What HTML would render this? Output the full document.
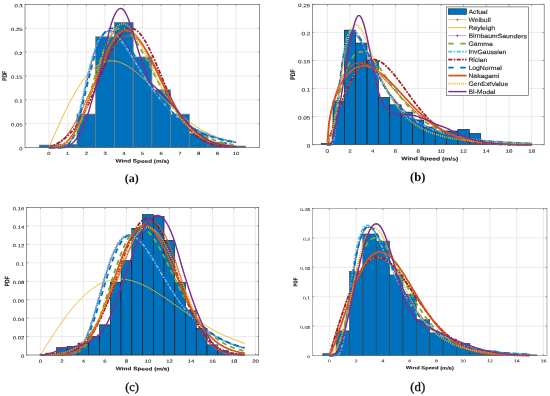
<!DOCTYPE html>
<html lang="en"><head><meta charset="utf-8"><title>Wind speed PDF fits</title>
<style>html,body{margin:0;padding:0;background:#fff;width:550px;height:396px;overflow:hidden}</style></head>
<body>
<svg width="550" height="396" viewBox="0 0 550 396" font-family="'Liberation Sans',sans-serif" text-rendering="geometricPrecision" style="display:block">
<rect width="550" height="396" fill="#fff"/>
<g id="chart-a">
<rect x="25.0" y="4.4" width="234.60" height="143.10" fill="#fff"/>
<path d="M48.90 4.4V147.5M67.62 4.4V147.5M86.34 4.4V147.5M105.06 4.4V147.5M123.78 4.4V147.5M142.50 4.4V147.5M161.22 4.4V147.5M179.94 4.4V147.5M198.66 4.4V147.5M217.38 4.4V147.5M236.10 4.4V147.5M25.0 123.65H259.6M25.0 99.80H259.6M25.0 75.95H259.6M25.0 52.10H259.6M25.0 28.25H259.6" stroke="#dbdbdb" stroke-width="0.55" fill="none"/>
<g fill="#0072BD" stroke="#787878" stroke-width="0.8"><rect x="39.54" y="145.12" width="18.72" height="2.39"/><rect x="58.26" y="144.35" width="18.72" height="3.15"/><rect x="76.98" y="114.11" width="18.72" height="33.39"/><rect x="95.70" y="36.84" width="18.72" height="110.66"/><rect x="114.42" y="22.53" width="18.72" height="124.97"/><rect x="133.14" y="57.06" width="18.72" height="90.44"/><rect x="151.86" y="89.88" width="18.72" height="57.62"/><rect x="170.58" y="114.21" width="18.72" height="33.29"/><rect x="189.30" y="133.19" width="18.72" height="14.31"/><rect x="208.02" y="142.25" width="18.72" height="5.25"/><rect x="226.74" y="146.07" width="18.72" height="1.43"/></g>
<polyline points="48.9,147.5 50.5,147.4 52.0,147.1 53.6,146.6 55.1,145.9 56.7,145.0 58.3,144.0 59.8,142.7 61.4,141.4 62.9,139.8 64.5,138.1 66.1,136.2 67.6,134.2 69.2,132.1 70.7,129.8 72.3,127.3 73.9,124.7 75.4,122.0 77.0,119.2 78.5,116.3 80.1,113.3 81.7,110.2 83.2,107.0 84.8,103.7 86.3,100.4 87.9,97.0 89.5,93.6 91.0,90.1 92.6,86.7 94.1,83.3 95.7,79.8 97.3,76.5 98.8,73.1 100.4,69.8 101.9,66.6 103.5,63.5 105.1,60.5 106.6,57.6 108.2,54.8 109.7,52.2 111.3,49.7 112.9,47.4 114.4,45.3 116.0,43.4 117.5,41.7 119.1,40.2 120.7,38.9 122.2,37.8 123.8,37.0 125.3,36.4 126.9,36.0 128.5,35.9 130.0,36.0 131.6,36.4 133.1,37.0 134.7,37.8 136.3,38.8 137.8,40.1 139.4,41.6 140.9,43.3 142.5,45.2 144.1,47.3 145.6,49.5 147.2,51.9 148.7,54.5 150.3,57.2 151.9,60.0 153.4,62.9 155.0,65.9 156.5,68.9 158.1,72.1 159.7,75.2 161.2,78.4 162.8,81.6 164.3,84.8 165.9,88.0 167.5,91.2 169.0,94.3 170.6,97.3 172.1,100.3 173.7,103.3 175.3,106.1 176.8,108.9 178.4,111.5 179.9,114.1 181.5,116.6 183.1,118.9 184.6,121.1 186.2,123.3 187.7,125.3 189.3,127.2 190.9,129.0 192.4,130.6 194.0,132.2 195.5,133.7 197.1,135.0 198.7,136.3 200.2,137.4 201.8,138.5 203.3,139.4 204.9,140.3 206.5,141.1 208.0,141.9 209.6,142.5 211.1,143.1 212.7,143.7 214.3,144.1 215.8,144.6 217.4,144.9 218.9,145.3 220.5,145.6 222.1,145.9 223.6,146.1 225.2,146.3 226.7,146.5 228.3,146.6 229.9,146.8 231.4,146.9 233.0,147.0 234.5,147.1 236.1,147.1" fill="none" stroke="#D95319" stroke-width="0.5" stroke-linejoin="round"/>
<polyline points="48.9,147.5 50.5,147.4 52.0,147.1 53.6,146.6 55.1,145.9 56.7,145.0 58.3,144.0 59.8,142.7 61.4,141.4 62.9,139.8 64.5,138.1 66.1,136.2 67.6,134.2 69.2,132.1 70.7,129.8 72.3,127.3 73.9,124.7 75.4,122.0 77.0,119.2 78.5,116.3 80.1,113.3 81.7,110.2 83.2,107.0 84.8,103.7 86.3,100.4 87.9,97.0 89.5,93.6 91.0,90.1 92.6,86.7 94.1,83.3 95.7,79.8 97.3,76.5 98.8,73.1 100.4,69.8 101.9,66.6 103.5,63.5 105.1,60.5 106.6,57.6 108.2,54.8 109.7,52.2 111.3,49.7 112.9,47.4 114.4,45.3 116.0,43.4 117.5,41.7 119.1,40.2 120.7,38.9 122.2,37.8 123.8,37.0 125.3,36.4 126.9,36.0 128.5,35.9 130.0,36.0 131.6,36.4 133.1,37.0 134.7,37.8 136.3,38.8 137.8,40.1 139.4,41.6 140.9,43.3 142.5,45.2 144.1,47.3 145.6,49.5 147.2,51.9 148.7,54.5 150.3,57.2 151.9,60.0 153.4,62.9 155.0,65.9 156.5,68.9 158.1,72.1 159.7,75.2 161.2,78.4 162.8,81.6 164.3,84.8 165.9,88.0 167.5,91.2 169.0,94.3 170.6,97.3 172.1,100.3 173.7,103.3 175.3,106.1 176.8,108.9 178.4,111.5 179.9,114.1 181.5,116.6 183.1,118.9 184.6,121.1 186.2,123.3 187.7,125.3 189.3,127.2 190.9,129.0 192.4,130.6 194.0,132.2 195.5,133.7 197.1,135.0 198.7,136.3 200.2,137.4 201.8,138.5 203.3,139.4 204.9,140.3 206.5,141.1 208.0,141.9 209.6,142.5 211.1,143.1 212.7,143.7 214.3,144.1 215.8,144.6 217.4,144.9 218.9,145.3 220.5,145.6 222.1,145.9 223.6,146.1 225.2,146.3 226.7,146.5 228.3,146.6 229.9,146.8 231.4,146.9 233.0,147.0 234.5,147.1 236.1,147.1" fill="none" stroke="#D95319" stroke-width="1.45" stroke-dasharray="0.01 2.0" stroke-linecap="round" stroke-linejoin="round"/>
<polyline points="48.9,147.5 50.5,143.9 52.0,140.4 53.6,136.8 55.1,133.3 56.7,129.8 58.3,126.3 59.8,122.9 61.4,119.5 62.9,116.2 64.5,112.9 66.1,109.7 67.6,106.6 69.2,103.5 70.7,100.5 72.3,97.6 73.9,94.8 75.4,92.1 77.0,89.4 78.5,86.9 80.1,84.5 81.7,82.2 83.2,80.0 84.8,77.9 86.3,75.9 87.9,74.1 89.5,72.3 91.0,70.7 92.6,69.2 94.1,67.9 95.7,66.6 97.3,65.5 98.8,64.5 100.4,63.6 101.9,62.9 103.5,62.2 105.1,61.7 106.6,61.3 108.2,61.0 109.7,60.9 111.3,60.8 112.9,60.9 114.4,61.0 116.0,61.3 117.5,61.6 119.1,62.1 120.7,62.6 122.2,63.3 123.8,64.0 125.3,64.8 126.9,65.6 128.5,66.6 130.0,67.6 131.6,68.7 133.1,69.9 134.7,71.1 136.3,72.3 137.8,73.6 139.4,75.0 140.9,76.4 142.5,77.8 144.1,79.3 145.6,80.7 147.2,82.3 148.7,83.8 150.3,85.4 151.9,86.9 153.4,88.5 155.0,90.1 156.5,91.7 158.1,93.3 159.7,94.9 161.2,96.5 162.8,98.0 164.3,99.6 165.9,101.2 167.5,102.7 169.0,104.2 170.6,105.7 172.1,107.2 173.7,108.7 175.3,110.1 176.8,111.5 178.4,112.9 179.9,114.3 181.5,115.6 183.1,116.9 184.6,118.2 186.2,119.4 187.7,120.6 189.3,121.8 190.9,122.9 192.4,124.0 194.0,125.1 195.5,126.2 197.1,127.2 198.7,128.1 200.2,129.1 201.8,130.0 203.3,130.9 204.9,131.7 206.5,132.5 208.0,133.3 209.6,134.0 211.1,134.8 212.7,135.5 214.3,136.1 215.8,136.7 217.4,137.3 218.9,137.9 220.5,138.5 222.1,139.0 223.6,139.5 225.2,140.0 226.7,140.4 228.3,140.9 229.9,141.3 231.4,141.6 233.0,142.0 234.5,142.4 236.1,142.7" fill="none" stroke="#EDB120" stroke-width="0.9" stroke-linejoin="round"/>
<polyline points="48.9,147.5 50.5,147.5 52.0,147.5 53.6,147.5 55.1,147.5 56.7,147.5 58.3,147.5 59.8,147.5 61.4,147.5 62.9,147.4 64.5,147.1 66.1,146.5 67.6,145.5 69.2,143.8 70.7,141.4 72.3,138.2 73.9,134.2 75.4,129.3 77.0,123.8 78.5,117.6 80.1,111.1 81.7,104.2 83.2,97.1 84.8,90.1 86.3,83.2 87.9,76.4 89.5,70.0 91.0,64.0 92.6,58.5 94.1,53.4 95.7,48.8 97.3,44.8 98.8,41.3 100.4,38.3 101.9,35.8 103.5,33.9 105.1,32.4 106.6,31.4 108.2,30.8 109.7,30.6 111.3,30.8 112.9,31.3 114.4,32.2 116.0,33.3 117.5,34.6 119.1,36.2 120.7,37.9 122.2,39.9 123.8,42.0 125.3,44.2 126.9,46.5 128.5,48.9 130.0,51.4 131.6,53.9 133.1,56.4 134.7,59.0 136.3,61.6 137.8,64.3 139.4,66.9 140.9,69.4 142.5,72.0 144.1,74.5 145.6,77.1 147.2,79.5 148.7,81.9 150.3,84.3 151.9,86.6 153.4,88.9 155.0,91.1 156.5,93.3 158.1,95.4 159.7,97.4 161.2,99.4 162.8,101.3 164.3,103.2 165.9,105.0 167.5,106.8 169.0,108.4 170.6,110.1 172.1,111.7 173.7,113.2 175.3,114.6 176.8,116.0 178.4,117.4 179.9,118.7 181.5,120.0 183.1,121.2 184.6,122.3 186.2,123.4 187.7,124.5 189.3,125.5 190.9,126.5 192.4,127.5 194.0,128.4 195.5,129.2 197.1,130.1 198.7,130.9 200.2,131.6 201.8,132.4 203.3,133.1 204.9,133.7 206.5,134.4 208.0,135.0 209.6,135.6 211.1,136.1 212.7,136.7 214.3,137.2 215.8,137.7 217.4,138.1 218.9,138.6 220.5,139.0 222.1,139.4 223.6,139.8 225.2,140.1 226.7,140.5 228.3,140.8 229.9,141.1 231.4,141.4 233.0,141.7 234.5,142.0 236.1,142.3" fill="none" stroke="#7E2F8E" stroke-width="0.5" stroke-linejoin="round"/>
<polyline points="48.9,147.5 50.5,147.5 52.0,147.5 53.6,147.5 55.1,147.5 56.7,147.5 58.3,147.5 59.8,147.5 61.4,147.5 62.9,147.4 64.5,147.1 66.1,146.5 67.6,145.5 69.2,143.8 70.7,141.4 72.3,138.2 73.9,134.2 75.4,129.3 77.0,123.8 78.5,117.6 80.1,111.1 81.7,104.2 83.2,97.1 84.8,90.1 86.3,83.2 87.9,76.4 89.5,70.0 91.0,64.0 92.6,58.5 94.1,53.4 95.7,48.8 97.3,44.8 98.8,41.3 100.4,38.3 101.9,35.8 103.5,33.9 105.1,32.4 106.6,31.4 108.2,30.8 109.7,30.6 111.3,30.8 112.9,31.3 114.4,32.2 116.0,33.3 117.5,34.6 119.1,36.2 120.7,37.9 122.2,39.9 123.8,42.0 125.3,44.2 126.9,46.5 128.5,48.9 130.0,51.4 131.6,53.9 133.1,56.4 134.7,59.0 136.3,61.6 137.8,64.3 139.4,66.9 140.9,69.4 142.5,72.0 144.1,74.5 145.6,77.1 147.2,79.5 148.7,81.9 150.3,84.3 151.9,86.6 153.4,88.9 155.0,91.1 156.5,93.3 158.1,95.4 159.7,97.4 161.2,99.4 162.8,101.3 164.3,103.2 165.9,105.0 167.5,106.8 169.0,108.4 170.6,110.1 172.1,111.7 173.7,113.2 175.3,114.6 176.8,116.0 178.4,117.4 179.9,118.7 181.5,120.0 183.1,121.2 184.6,122.3 186.2,123.4 187.7,124.5 189.3,125.5 190.9,126.5 192.4,127.5 194.0,128.4 195.5,129.2 197.1,130.1 198.7,130.9 200.2,131.6 201.8,132.4 203.3,133.1 204.9,133.7 206.5,134.4 208.0,135.0 209.6,135.6 211.1,136.1 212.7,136.7 214.3,137.2 215.8,137.7 217.4,138.1 218.9,138.6 220.5,139.0 222.1,139.4 223.6,139.8 225.2,140.1 226.7,140.5 228.3,140.8 229.9,141.1 231.4,141.4 233.0,141.7 234.5,142.0 236.1,142.3" fill="none" stroke="#7E2F8E" stroke-width="1.45" stroke-dasharray="0.01 2.0" stroke-linecap="round" stroke-linejoin="round"/>
<polyline points="48.9,147.5 50.5,147.5 52.0,147.5 53.6,147.5 55.1,147.5 56.7,147.5 58.3,147.4 59.8,147.3 61.4,147.0 62.9,146.7 64.5,146.1 66.1,145.4 67.6,144.4 69.2,143.0 70.7,141.4 72.3,139.4 73.9,137.0 75.4,134.3 77.0,131.2 78.5,127.7 80.1,123.8 81.7,119.6 83.2,115.2 84.8,110.5 86.3,105.5 87.9,100.4 89.5,95.2 91.0,89.9 92.6,84.6 94.1,79.3 95.7,74.1 97.3,69.1 98.8,64.2 100.4,59.5 101.9,55.1 103.5,50.9 105.1,47.1 106.6,43.5 108.2,40.4 109.7,37.6 111.3,35.1 112.9,33.0 114.4,31.4 116.0,30.0 117.5,29.1 119.1,28.5 120.7,28.3 122.2,28.4 123.8,28.8 125.3,29.5 126.9,30.5 128.5,31.8 130.0,33.3 131.6,35.1 133.1,37.1 134.7,39.2 136.3,41.5 137.8,44.0 139.4,46.6 140.9,49.3 142.5,52.1 144.1,55.0 145.6,57.9 147.2,60.9 148.7,63.9 150.3,66.9 151.9,70.0 153.4,73.0 155.0,75.9 156.5,78.9 158.1,81.8 159.7,84.7 161.2,87.5 162.8,90.3 164.3,92.9 165.9,95.6 167.5,98.1 169.0,100.6 170.6,103.0 172.1,105.3 173.7,107.5 175.3,109.7 176.8,111.7 178.4,113.7 179.9,115.6 181.5,117.4 183.1,119.2 184.6,120.8 186.2,122.4 187.7,123.9 189.3,125.3 190.9,126.7 192.4,128.0 194.0,129.2 195.5,130.4 197.1,131.5 198.7,132.5 200.2,133.5 201.8,134.4 203.3,135.3 204.9,136.1 206.5,136.9 208.0,137.6 209.6,138.3 211.1,138.9 212.7,139.5 214.3,140.1 215.8,140.6 217.4,141.1 218.9,141.6 220.5,142.0 222.1,142.4 223.6,142.8 225.2,143.1 226.7,143.4 228.3,143.7 229.9,144.0 231.4,144.3 233.0,144.5 234.5,144.7 236.1,145.0" fill="none" stroke="#77AC30" stroke-width="1.75" stroke-dasharray="5 4" stroke-linejoin="round"/>
<polyline points="48.9,147.5 50.5,147.5 52.0,147.5 53.6,147.5 55.1,147.5 56.7,147.5 58.3,147.5 59.8,147.5 61.4,147.5 62.9,147.4 64.5,147.1 66.1,146.5 67.6,145.3 69.2,143.6 70.7,141.0 72.3,137.6 73.9,133.3 75.4,128.2 77.0,122.4 78.5,116.0 80.1,109.3 81.7,102.2 83.2,95.1 84.8,88.0 86.3,81.0 87.9,74.3 89.5,68.0 91.0,62.1 92.6,56.7 94.1,51.8 95.7,47.4 97.3,43.6 98.8,40.4 100.4,37.7 101.9,35.5 103.5,33.8 105.1,32.6 106.6,31.8 108.2,31.5 109.7,31.5 111.3,31.9 112.9,32.6 114.4,33.6 116.0,34.9 117.5,36.3 119.1,38.0 120.7,39.9 122.2,41.9 123.8,44.1 125.3,46.3 126.9,48.7 128.5,51.1 130.0,53.6 131.6,56.1 133.1,58.6 134.7,61.2 136.3,63.7 137.8,66.3 139.4,68.8 140.9,71.4 142.5,73.9 144.1,76.3 145.6,78.8 147.2,81.2 148.7,83.5 150.3,85.8 151.9,88.0 153.4,90.2 155.0,92.3 156.5,94.4 158.1,96.4 159.7,98.4 161.2,100.3 162.8,102.1 164.3,103.9 165.9,105.7 167.5,107.3 169.0,108.9 170.6,110.5 172.1,112.0 173.7,113.5 175.3,114.9 176.8,116.2 178.4,117.5 179.9,118.8 181.5,120.0 183.1,121.1 184.6,122.3 186.2,123.3 187.7,124.4 189.3,125.4 190.9,126.3 192.4,127.2 194.0,128.1 195.5,128.9 197.1,129.7 198.7,130.5 200.2,131.3 201.8,132.0 203.3,132.6 204.9,133.3 206.5,133.9 208.0,134.5 209.6,135.1 211.1,135.6 212.7,136.2 214.3,136.7 215.8,137.2 217.4,137.6 218.9,138.1 220.5,138.5 222.1,138.9 223.6,139.3 225.2,139.6 226.7,140.0 228.3,140.3 229.9,140.6 231.4,140.9 233.0,141.2 234.5,141.5 236.1,141.8" fill="none" stroke="#4DBEEE" stroke-width="1.75" stroke-dasharray="4 1.4 1.6 1.4" stroke-linejoin="round"/>
<polyline points="48.9,147.5 50.5,146.8 52.0,146.1 53.6,145.3 55.1,144.5 56.7,143.7 58.3,142.8 59.8,141.9 61.4,140.8 62.9,139.7 64.5,138.5 66.1,137.3 67.6,135.8 69.2,134.3 70.7,132.7 72.3,130.9 73.9,129.0 75.4,126.9 77.0,124.7 78.5,122.4 80.1,119.8 81.7,117.2 83.2,114.4 84.8,111.5 86.3,108.4 87.9,105.2 89.5,101.9 91.0,98.4 92.6,94.9 94.1,91.2 95.7,87.5 97.3,83.8 98.8,80.0 100.4,76.1 101.9,72.3 103.5,68.5 105.1,64.8 106.6,61.1 108.2,57.5 109.7,54.0 111.3,50.6 112.9,47.4 114.4,44.4 116.0,41.6 117.5,39.0 119.1,36.7 120.7,34.6 122.2,32.7 123.8,31.2 125.3,30.0 126.9,29.1 128.5,28.4 130.0,28.2 131.6,28.2 133.1,28.5 134.7,29.2 136.3,30.2 137.8,31.4 139.4,33.0 140.9,34.9 142.5,37.0 144.1,39.3 145.6,41.9 147.2,44.7 148.7,47.7 150.3,50.8 151.9,54.1 153.4,57.6 155.0,61.1 156.5,64.7 158.1,68.3 159.7,72.0 161.2,75.7 162.8,79.5 164.3,83.1 165.9,86.8 167.5,90.4 169.0,93.9 170.6,97.3 172.1,100.6 173.7,103.9 175.3,107.0 176.8,109.9 178.4,112.8 179.9,115.5 181.5,118.1 183.1,120.5 184.6,122.9 186.2,125.0 187.7,127.0 189.3,128.9 190.9,130.7 192.4,132.3 194.0,133.8 195.5,135.2 197.1,136.5 198.7,137.7 200.2,138.7 201.8,139.7 203.3,140.6 204.9,141.4 206.5,142.1 208.0,142.8 209.6,143.3 211.1,143.9 212.7,144.3 214.3,144.7 215.8,145.1 217.4,145.4 218.9,145.7 220.5,145.9 222.1,146.2 223.6,146.4 225.2,146.5 226.7,146.7 228.3,146.8 229.9,146.9 231.4,147.0 233.0,147.1 234.5,147.1 236.1,147.2" fill="none" stroke="#A2142F" stroke-width="1.75" stroke-dasharray="4 1.4 1.6 1.4" stroke-linejoin="round"/>
<polyline points="48.9,147.5 50.5,147.5 52.0,147.5 53.6,147.5 55.1,147.5 56.7,147.5 58.3,147.5 59.8,147.5 61.4,147.4 62.9,147.2 64.5,146.8 66.1,146.1 67.6,145.1 69.2,143.5 70.7,141.3 72.3,138.5 73.9,135.0 75.4,130.9 77.0,126.1 78.5,120.7 80.1,114.9 81.7,108.6 83.2,102.1 84.8,95.5 86.3,88.7 87.9,82.1 89.5,75.5 91.0,69.3 92.6,63.3 94.1,57.7 95.7,52.5 97.3,47.9 98.8,43.7 100.4,40.0 101.9,36.8 103.5,34.2 105.1,32.0 106.6,30.4 108.2,29.3 109.7,28.5 111.3,28.3 112.9,28.4 114.4,28.9 116.0,29.7 117.5,30.8 119.1,32.2 120.7,33.9 122.2,35.7 123.8,37.8 125.3,40.1 126.9,42.4 128.5,44.9 130.0,47.5 131.6,50.2 133.1,52.9 134.7,55.7 136.3,58.5 137.8,61.3 139.4,64.1 140.9,66.9 142.5,69.7 144.1,72.4 145.6,75.1 147.2,77.8 148.7,80.4 150.3,83.0 151.9,85.5 153.4,87.9 155.0,90.3 156.5,92.6 158.1,94.9 159.7,97.1 161.2,99.2 162.8,101.2 164.3,103.2 165.9,105.1 167.5,106.9 169.0,108.7 170.6,110.4 172.1,112.1 173.7,113.7 175.3,115.2 176.8,116.6 178.4,118.0 179.9,119.4 181.5,120.7 183.1,121.9 184.6,123.1 186.2,124.2 187.7,125.3 189.3,126.3 190.9,127.3 192.4,128.2 194.0,129.1 195.5,130.0 197.1,130.8 198.7,131.6 200.2,132.4 201.8,133.1 203.3,133.7 204.9,134.4 206.5,135.0 208.0,135.6 209.6,136.2 211.1,136.7 212.7,137.2 214.3,137.7 215.8,138.2 217.4,138.6 218.9,139.0 220.5,139.4 222.1,139.8 223.6,140.2 225.2,140.5 226.7,140.9 228.3,141.2 229.9,141.5 231.4,141.8 233.0,142.0 234.5,142.3 236.1,142.5" fill="none" stroke="#0072BD" stroke-width="1.75" stroke-dasharray="5 4" stroke-linejoin="round"/>
<polyline points="48.9,147.5 50.5,147.5 52.0,147.5 53.6,147.4 55.1,147.3 56.7,147.0 58.3,146.7 59.8,146.2 61.4,145.5 62.9,144.7 64.5,143.7 66.1,142.4 67.6,141.0 69.2,139.3 70.7,137.4 72.3,135.3 73.9,132.9 75.4,130.3 77.0,127.4 78.5,124.3 80.1,121.0 81.7,117.6 83.2,113.9 84.8,110.1 86.3,106.1 87.9,102.0 89.5,97.8 91.0,93.6 92.6,89.3 94.1,84.9 95.7,80.6 97.3,76.3 98.8,72.1 100.4,67.9 101.9,63.9 103.5,60.0 105.1,56.3 106.6,52.7 108.2,49.4 109.7,46.3 111.3,43.4 112.9,40.8 114.4,38.4 116.0,36.4 117.5,34.6 119.1,33.1 120.7,31.9 122.2,31.0 123.8,30.5 125.3,30.2 126.9,30.2 128.5,30.5 130.0,31.1 131.6,32.0 133.1,33.1 134.7,34.5 136.3,36.1 137.8,37.9 139.4,39.9 140.9,42.2 142.5,44.6 144.1,47.1 145.6,49.8 147.2,52.6 148.7,55.6 150.3,58.6 151.9,61.7 153.4,64.8 155.0,68.0 156.5,71.2 158.1,74.4 159.7,77.6 161.2,80.8 162.8,83.9 164.3,87.1 165.9,90.1 167.5,93.2 169.0,96.1 170.6,99.0 172.1,101.8 173.7,104.5 175.3,107.1 176.8,109.6 178.4,112.0 179.9,114.4 181.5,116.6 183.1,118.7 184.6,120.7 186.2,122.7 187.7,124.5 189.3,126.2 190.9,127.8 192.4,129.4 194.0,130.8 195.5,132.2 197.1,133.4 198.7,134.6 200.2,135.7 201.8,136.7 203.3,137.7 204.9,138.6 206.5,139.4 208.0,140.1 209.6,140.8 211.1,141.4 212.7,142.0 214.3,142.6 215.8,143.1 217.4,143.5 218.9,143.9 220.5,144.3 222.1,144.6 223.6,144.9 225.2,145.2 226.7,145.5 228.3,145.7 229.9,145.9 231.4,146.1 233.0,146.2 234.5,146.4 236.1,146.5" fill="none" stroke="#D95319" stroke-width="1.75" stroke-linejoin="round"/>
<polyline points="48.9,147.3 50.5,147.2 52.0,147.1 53.6,147.0 55.1,146.8 56.7,146.5 58.3,146.1 59.8,145.7 61.4,145.2 62.9,144.5 64.5,143.7 66.1,142.7 67.6,141.5 69.2,140.2 70.7,138.5 72.3,136.7 73.9,134.5 75.4,132.1 77.0,129.4 78.5,126.4 80.1,123.1 81.7,119.6 83.2,115.7 84.8,111.6 86.3,107.2 87.9,102.7 89.5,97.9 91.0,93.0 92.6,88.0 94.1,82.9 95.7,77.8 97.3,72.7 98.8,67.6 100.4,62.7 101.9,57.9 103.5,53.3 105.1,49.0 106.6,44.9 108.2,41.1 109.7,37.7 111.3,34.6 112.9,31.9 114.4,29.5 116.0,27.6 117.5,26.1 119.1,24.9 120.7,24.2 122.2,23.8 123.8,23.9 125.3,24.3 126.9,25.0 128.5,26.1 130.0,27.5 131.6,29.2 133.1,31.2 134.7,33.4 136.3,35.8 137.8,38.4 139.4,41.2 140.9,44.2 142.5,47.2 144.1,50.4 145.6,53.7 147.2,57.0 148.7,60.3 150.3,63.7 151.9,67.1 153.4,70.5 155.0,73.8 156.5,77.1 158.1,80.4 159.7,83.6 161.2,86.8 162.8,89.8 164.3,92.8 165.9,95.8 167.5,98.6 169.0,101.3 170.6,104.0 172.1,106.5 173.7,108.9 175.3,111.3 176.8,113.5 178.4,115.7 179.9,117.7 181.5,119.7 183.1,121.5 184.6,123.3 186.2,124.9 187.7,126.5 189.3,128.0 190.9,129.4 192.4,130.7 194.0,132.0 195.5,133.2 197.1,134.3 198.7,135.3 200.2,136.3 201.8,137.2 203.3,138.0 204.9,138.8 206.5,139.5 208.0,140.2 209.6,140.8 211.1,141.4 212.7,142.0 214.3,142.5 215.8,142.9 217.4,143.4 218.9,143.8 220.5,144.1 222.1,144.4 223.6,144.7 225.2,145.0 226.7,145.3 228.3,145.5 229.9,145.7 231.4,145.9 233.0,146.1 234.5,146.2 236.1,146.4" fill="none" stroke="#EDB120" stroke-width="1.75" stroke-dasharray="1.0 1.1" stroke-linejoin="round"/>
<polyline points="48.9,147.5 50.5,147.5 52.0,147.5 53.6,147.5 55.1,147.5 56.7,147.5 58.3,147.5 59.8,147.5 61.4,147.5 62.9,147.5 64.5,147.5 66.1,147.2 67.6,146.5 69.2,145.6 70.7,144.6 72.3,143.3 73.9,141.8 75.4,140.0 77.0,138.0 78.5,135.6 80.1,133.0 81.7,130.0 83.2,126.6 84.8,122.9 86.3,118.9 87.9,114.2 89.5,109.0 91.0,103.4 92.6,98.0 94.1,92.7 95.7,87.6 97.3,82.4 98.8,77.0 100.4,71.3 101.9,65.1 103.5,58.2 105.1,50.7 106.6,43.1 108.2,35.7 109.7,29.1 111.3,23.7 112.9,19.1 114.4,15.3 116.0,12.3 117.5,10.2 119.1,8.9 120.7,8.4 122.2,8.8 123.8,10.1 125.3,12.4 126.9,15.5 128.5,19.3 130.0,23.7 131.6,28.5 133.1,33.5 134.7,38.7 136.3,43.9 137.8,49.0 139.4,53.9 140.9,58.5 142.5,62.7 144.1,66.7 145.6,70.8 147.2,76.3 148.7,79.9 150.3,82.2 151.9,84.0 153.4,85.5 155.0,87.0 156.5,88.5 158.1,89.9 159.7,91.4 161.2,92.9 162.8,94.4 164.3,96.0 165.9,97.6 167.5,99.3 169.0,100.9 170.6,102.7 172.1,104.5 173.7,106.3 175.3,108.3 176.8,110.2 178.4,112.1 179.9,114.1 181.5,116.0 183.1,117.9 184.6,119.8 186.2,121.6 187.7,123.3 189.3,125.0 190.9,126.6 192.4,128.2 194.0,129.7 195.5,131.1 197.1,132.5 198.7,133.8 200.2,135.1 201.8,136.2 203.3,137.3 204.9,138.4 206.5,139.3 208.0,140.1 209.6,140.9 211.1,141.6 212.7,142.1 214.3,142.7 215.8,143.2 217.4,143.7 218.9,144.1 220.5,144.5 222.1,144.8 223.6,145.1 225.2,145.4 226.7,145.6 228.3,145.8 229.9,146.0 231.4,146.1 233.0,146.3 234.5,146.4 236.1,146.5" fill="none" stroke="#7E2F8E" stroke-width="1.45" stroke-linejoin="round"/>
<path d="M48.90 147.5v-1.6M48.90 4.4v1.6M67.62 147.5v-1.6M67.62 4.4v1.6M86.34 147.5v-1.6M86.34 4.4v1.6M105.06 147.5v-1.6M105.06 4.4v1.6M123.78 147.5v-1.6M123.78 4.4v1.6M142.50 147.5v-1.6M142.50 4.4v1.6M161.22 147.5v-1.6M161.22 4.4v1.6M179.94 147.5v-1.6M179.94 4.4v1.6M198.66 147.5v-1.6M198.66 4.4v1.6M217.38 147.5v-1.6M217.38 4.4v1.6M236.10 147.5v-1.6M236.10 4.4v1.6M25.0 147.50h1.6M259.6 147.50h-1.6M25.0 123.65h1.6M259.6 123.65h-1.6M25.0 99.80h1.6M259.6 99.80h-1.6M25.0 75.95h1.6M259.6 75.95h-1.6M25.0 52.10h1.6M259.6 52.10h-1.6M25.0 28.25h1.6M259.6 28.25h-1.6M25.0 4.40h1.6M259.6 4.40h-1.6" stroke="#555" stroke-width="0.5" fill="none"/>
<rect x="25.0" y="4.4" width="234.60" height="143.10" fill="none" stroke="#666" stroke-width="0.7"/>
<g font-size="4.5" fill="#333" stroke="#333" stroke-width="0.1"><text transform="translate(48.90,154.91) rotate(0.5) scale(1.31,1)" text-anchor="middle">0</text><text transform="translate(67.62,154.91) rotate(0.5) scale(1.31,1)" text-anchor="middle">1</text><text transform="translate(86.34,154.91) rotate(0.5) scale(1.31,1)" text-anchor="middle">2</text><text transform="translate(105.06,154.91) rotate(0.5) scale(1.31,1)" text-anchor="middle">3</text><text transform="translate(123.78,154.91) rotate(0.5) scale(1.31,1)" text-anchor="middle">4</text><text transform="translate(142.50,154.91) rotate(0.5) scale(1.31,1)" text-anchor="middle">5</text><text transform="translate(161.22,154.91) rotate(0.5) scale(1.31,1)" text-anchor="middle">6</text><text transform="translate(179.94,154.91) rotate(0.5) scale(1.31,1)" text-anchor="middle">7</text><text transform="translate(198.66,154.91) rotate(0.5) scale(1.31,1)" text-anchor="middle">8</text><text transform="translate(217.38,154.91) rotate(0.5) scale(1.31,1)" text-anchor="middle">9</text><text transform="translate(236.10,154.91) rotate(0.5) scale(1.31,1)" text-anchor="middle">10</text><text transform="translate(22.60,150.31) rotate(0.5) scale(1.31,1)" text-anchor="end">0</text><text transform="translate(22.60,126.46) rotate(0.5) scale(1.31,1)" text-anchor="end">0.05</text><text transform="translate(22.60,102.61) rotate(0.5) scale(1.31,1)" text-anchor="end">0.1</text><text transform="translate(22.60,78.76) rotate(0.5) scale(1.31,1)" text-anchor="end">0.15</text><text transform="translate(22.60,54.91) rotate(0.5) scale(1.31,1)" text-anchor="end">0.2</text><text transform="translate(22.60,31.06) rotate(0.5) scale(1.31,1)" text-anchor="end">0.25</text><text transform="translate(22.60,7.21) rotate(0.5) scale(1.31,1)" text-anchor="end">0.3</text></g>
<g font-size="4.9" font-weight="bold" fill="#222" stroke="#222" stroke-width="0.1">
<text transform="translate(142.30,162.70) rotate(0.5) scale(1.31,1)" text-anchor="middle">Wind Speed (m/s)</text>
<text transform="translate(6.70,75.95) rotate(-89.5) scale(1,1.31)" text-anchor="middle">PDF</text>
</g>
<text x="131.80" y="181.80" text-anchor="middle" font-family="'Liberation Serif','DejaVu Serif',serif" font-size="12" font-weight="bold" fill="#111">(a)</text>
</g>
<g id="chart-b">
<rect x="312.6" y="4.3" width="231.60" height="140.40" fill="#fff"/>
<path d="M327.30 4.3V144.7M350.02 4.3V144.7M372.74 4.3V144.7M395.46 4.3V144.7M418.18 4.3V144.7M440.90 4.3V144.7M463.62 4.3V144.7M486.34 4.3V144.7M509.06 4.3V144.7M531.78 4.3V144.7M312.6 116.62H544.2M312.6 88.54H544.2M312.6 60.46H544.2M312.6 32.38H544.2" stroke="#dbdbdb" stroke-width="0.55" fill="none"/>
<g fill="#0072BD" stroke="#101010" stroke-width="0.6"><rect x="321.62" y="143.58" width="11.36" height="1.12"/><rect x="332.98" y="100.90" width="11.36" height="43.80"/><rect x="344.34" y="30.13" width="11.36" height="114.57"/><rect x="355.70" y="43.05" width="11.36" height="101.65"/><rect x="367.06" y="60.46" width="11.36" height="84.24"/><rect x="378.42" y="97.53" width="11.36" height="47.17"/><rect x="389.78" y="104.83" width="11.36" height="39.87"/><rect x="401.14" y="112.13" width="11.36" height="32.57"/><rect x="412.50" y="119.99" width="11.36" height="24.71"/><rect x="423.86" y="127.01" width="11.36" height="17.69"/><rect x="435.22" y="131.00" width="11.36" height="13.70"/><rect x="446.58" y="131.00" width="11.36" height="13.70"/><rect x="457.94" y="129.42" width="11.36" height="15.28"/><rect x="469.30" y="133.47" width="11.36" height="11.23"/><rect x="480.66" y="142.45" width="11.36" height="2.25"/><rect x="492.02" y="143.58" width="11.36" height="1.12"/><rect x="503.38" y="144.14" width="11.36" height="0.56"/></g>
<polyline points="327.3,144.7 329.0,124.6 330.7,114.3 332.4,106.2 334.1,99.4 335.8,93.6 337.5,88.5 339.2,84.0 340.9,80.1 342.6,76.7 344.3,73.7 346.0,71.2 347.7,69.0 349.5,67.2 351.2,65.8 352.9,64.6 354.6,63.7 356.3,63.1 358.0,62.8 359.7,62.7 361.4,62.8 363.1,63.2 364.8,63.7 366.5,64.4 368.2,65.2 369.9,66.2 371.6,67.3 373.3,68.6 375.0,70.0 376.7,71.4 378.4,72.9 380.1,74.6 381.8,76.2 383.5,78.0 385.2,79.8 386.9,81.6 388.6,83.4 390.3,85.3 392.1,87.2 393.8,89.0 395.5,90.9 397.2,92.8 398.9,94.7 400.6,96.5 402.3,98.4 404.0,100.2 405.7,102.0 407.4,103.7 409.1,105.4 410.8,107.1 412.5,108.8 414.2,110.4 415.9,112.0 417.6,113.5 419.3,115.0 421.0,116.4 422.7,117.8 424.4,119.1 426.1,120.4 427.8,121.7 429.5,122.9 431.2,124.0 432.9,125.1 434.7,126.2 436.4,127.2 438.1,128.2 439.8,129.1 441.5,130.0 443.2,130.9 444.9,131.7 446.6,132.5 448.3,133.2 450.0,133.9 451.7,134.6 453.4,135.2 455.1,135.8 456.8,136.4 458.5,136.9 460.2,137.4 461.9,137.9 463.6,138.3 465.3,138.8 467.0,139.2 468.7,139.5 470.4,139.9 472.1,140.2 473.8,140.5 475.5,140.8 477.3,141.1 479.0,141.4 480.7,141.6 482.4,141.8 484.1,142.0 485.8,142.2 487.5,142.4 489.2,142.6 490.9,142.7 492.6,142.9 494.3,143.0 496.0,143.2 497.7,143.3 499.4,143.4 501.1,143.5 502.8,143.6 504.5,143.7 506.2,143.8 507.9,143.8 509.6,143.9 511.3,144.0 513.0,144.0 514.7,144.1 516.4,144.1 518.1,144.2 519.9,144.2 521.6,144.3 523.3,144.3 525.0,144.3 526.7,144.4 528.4,144.4 530.1,144.4 531.8,144.5" fill="none" stroke="#D95319" stroke-width="0.5" stroke-linejoin="round"/>
<polyline points="327.3,144.7 329.0,124.6 330.7,114.3 332.4,106.2 334.1,99.4 335.8,93.6 337.5,88.5 339.2,84.0 340.9,80.1 342.6,76.7 344.3,73.7 346.0,71.2 347.7,69.0 349.5,67.2 351.2,65.8 352.9,64.6 354.6,63.7 356.3,63.1 358.0,62.8 359.7,62.7 361.4,62.8 363.1,63.2 364.8,63.7 366.5,64.4 368.2,65.2 369.9,66.2 371.6,67.3 373.3,68.6 375.0,70.0 376.7,71.4 378.4,72.9 380.1,74.6 381.8,76.2 383.5,78.0 385.2,79.8 386.9,81.6 388.6,83.4 390.3,85.3 392.1,87.2 393.8,89.0 395.5,90.9 397.2,92.8 398.9,94.7 400.6,96.5 402.3,98.4 404.0,100.2 405.7,102.0 407.4,103.7 409.1,105.4 410.8,107.1 412.5,108.8 414.2,110.4 415.9,112.0 417.6,113.5 419.3,115.0 421.0,116.4 422.7,117.8 424.4,119.1 426.1,120.4 427.8,121.7 429.5,122.9 431.2,124.0 432.9,125.1 434.7,126.2 436.4,127.2 438.1,128.2 439.8,129.1 441.5,130.0 443.2,130.9 444.9,131.7 446.6,132.5 448.3,133.2 450.0,133.9 451.7,134.6 453.4,135.2 455.1,135.8 456.8,136.4 458.5,136.9 460.2,137.4 461.9,137.9 463.6,138.3 465.3,138.8 467.0,139.2 468.7,139.5 470.4,139.9 472.1,140.2 473.8,140.5 475.5,140.8 477.3,141.1 479.0,141.4 480.7,141.6 482.4,141.8 484.1,142.0 485.8,142.2 487.5,142.4 489.2,142.6 490.9,142.7 492.6,142.9 494.3,143.0 496.0,143.2 497.7,143.3 499.4,143.4 501.1,143.5 502.8,143.6 504.5,143.7 506.2,143.8 507.9,143.8 509.6,143.9 511.3,144.0 513.0,144.0 514.7,144.1 516.4,144.1 518.1,144.2 519.9,144.2 521.6,144.3 523.3,144.3 525.0,144.3 526.7,144.4 528.4,144.4 530.1,144.4 531.8,144.5" fill="none" stroke="#D95319" stroke-width="1.45" stroke-dasharray="0.01 2.0" stroke-linecap="round" stroke-linejoin="round"/>
<polyline points="327.3,144.7 329.0,139.4 330.7,134.1 332.4,128.9 334.1,123.8 335.8,118.7 337.5,113.8 339.2,108.9 340.9,104.2 342.6,99.7 344.3,95.4 346.0,91.3 347.7,87.4 349.5,83.7 351.2,80.2 352.9,77.0 354.6,74.1 356.3,71.4 358.0,69.0 359.7,66.8 361.4,64.9 363.1,63.3 364.8,62.0 366.5,61.0 368.2,60.2 369.9,59.7 371.6,59.4 373.3,59.4 375.0,59.6 376.7,60.0 378.4,60.7 380.1,61.5 381.8,62.6 383.5,63.8 385.2,65.2 386.9,66.8 388.6,68.5 390.3,70.3 392.1,72.2 393.8,74.3 395.5,76.4 397.2,78.6 398.9,80.8 400.6,83.1 402.3,85.4 404.0,87.8 405.7,90.1 407.4,92.5 409.1,94.8 410.8,97.2 412.5,99.5 414.2,101.8 415.9,104.0 417.6,106.2 419.3,108.3 421.0,110.4 422.7,112.4 424.4,114.3 426.1,116.2 427.8,118.0 429.5,119.8 431.2,121.4 432.9,123.0 434.7,124.5 436.4,126.0 438.1,127.3 439.8,128.6 441.5,129.8 443.2,131.0 444.9,132.1 446.6,133.1 448.3,134.0 450.0,134.9 451.7,135.8 453.4,136.5 455.1,137.2 456.8,137.9 458.5,138.5 460.2,139.1 461.9,139.6 463.6,140.1 465.3,140.5 467.0,140.9 468.7,141.3 470.4,141.7 472.1,142.0 473.8,142.3 475.5,142.5 477.3,142.7 479.0,143.0 480.7,143.1 482.4,143.3 484.1,143.5 485.8,143.6 487.5,143.7 489.2,143.8 490.9,143.9 492.6,144.0 494.3,144.1 496.0,144.2 497.7,144.2 499.4,144.3 501.1,144.4 502.8,144.4 504.5,144.4 506.2,144.5 507.9,144.5 509.6,144.5 511.3,144.5 513.0,144.6 514.7,144.6 516.4,144.6 518.1,144.6 519.9,144.6 521.6,144.6 523.3,144.6 525.0,144.7 526.7,144.7 528.4,144.7 530.1,144.7 531.8,144.7" fill="none" stroke="#EDB120" stroke-width="0.9" stroke-linejoin="round"/>
<polyline points="327.3,144.7 329.0,144.7 330.7,144.7 332.4,143.2 334.1,136.3 335.8,123.3 337.5,106.7 339.2,89.6 340.9,74.1 342.6,61.2 344.3,51.0 346.0,43.4 347.7,38.2 349.5,35.0 351.2,33.3 352.9,33.0 354.6,33.6 356.3,35.1 358.0,37.2 359.7,39.8 361.4,42.6 363.1,45.8 364.8,49.0 366.5,52.4 368.2,55.8 369.9,59.2 371.6,62.6 373.3,65.9 375.0,69.2 376.7,72.4 378.4,75.5 380.1,78.5 381.8,81.4 383.5,84.2 385.2,86.9 386.9,89.5 388.6,92.0 390.3,94.4 392.1,96.7 393.8,98.9 395.5,101.0 397.2,103.0 398.9,104.9 400.6,106.7 402.3,108.5 404.0,110.2 405.7,111.8 407.4,113.3 409.1,114.7 410.8,116.1 412.5,117.4 414.2,118.7 415.9,119.9 417.6,121.0 419.3,122.1 421.0,123.2 422.7,124.2 424.4,125.1 426.1,126.0 427.8,126.9 429.5,127.7 431.2,128.5 432.9,129.2 434.7,129.9 436.4,130.6 438.1,131.2 439.8,131.9 441.5,132.4 443.2,133.0 444.9,133.5 446.6,134.0 448.3,134.5 450.0,135.0 451.7,135.4 453.4,135.8 455.1,136.2 456.8,136.6 458.5,137.0 460.2,137.3 461.9,137.7 463.6,138.0 465.3,138.3 467.0,138.6 468.7,138.9 470.4,139.1 472.1,139.4 473.8,139.6 475.5,139.8 477.3,140.1 479.0,140.3 480.7,140.5 482.4,140.6 484.1,140.8 485.8,141.0 487.5,141.2 489.2,141.3 490.9,141.5 492.6,141.6 494.3,141.8 496.0,141.9 497.7,142.0 499.4,142.1 501.1,142.2 502.8,142.3 504.5,142.5 506.2,142.6 507.9,142.6 509.6,142.7 511.3,142.8 513.0,142.9 514.7,143.0 516.4,143.1 518.1,143.1 519.9,143.2 521.6,143.3 523.3,143.3 525.0,143.4 526.7,143.4 528.4,143.5 530.1,143.6 531.8,143.6" fill="none" stroke="#7E2F8E" stroke-width="0.5" stroke-linejoin="round"/>
<polyline points="327.3,144.7 329.0,144.7 330.7,144.7 332.4,143.2 334.1,136.3 335.8,123.3 337.5,106.7 339.2,89.6 340.9,74.1 342.6,61.2 344.3,51.0 346.0,43.4 347.7,38.2 349.5,35.0 351.2,33.3 352.9,33.0 354.6,33.6 356.3,35.1 358.0,37.2 359.7,39.8 361.4,42.6 363.1,45.8 364.8,49.0 366.5,52.4 368.2,55.8 369.9,59.2 371.6,62.6 373.3,65.9 375.0,69.2 376.7,72.4 378.4,75.5 380.1,78.5 381.8,81.4 383.5,84.2 385.2,86.9 386.9,89.5 388.6,92.0 390.3,94.4 392.1,96.7 393.8,98.9 395.5,101.0 397.2,103.0 398.9,104.9 400.6,106.7 402.3,108.5 404.0,110.2 405.7,111.8 407.4,113.3 409.1,114.7 410.8,116.1 412.5,117.4 414.2,118.7 415.9,119.9 417.6,121.0 419.3,122.1 421.0,123.2 422.7,124.2 424.4,125.1 426.1,126.0 427.8,126.9 429.5,127.7 431.2,128.5 432.9,129.2 434.7,129.9 436.4,130.6 438.1,131.2 439.8,131.9 441.5,132.4 443.2,133.0 444.9,133.5 446.6,134.0 448.3,134.5 450.0,135.0 451.7,135.4 453.4,135.8 455.1,136.2 456.8,136.6 458.5,137.0 460.2,137.3 461.9,137.7 463.6,138.0 465.3,138.3 467.0,138.6 468.7,138.9 470.4,139.1 472.1,139.4 473.8,139.6 475.5,139.8 477.3,140.1 479.0,140.3 480.7,140.5 482.4,140.6 484.1,140.8 485.8,141.0 487.5,141.2 489.2,141.3 490.9,141.5 492.6,141.6 494.3,141.8 496.0,141.9 497.7,142.0 499.4,142.1 501.1,142.2 502.8,142.3 504.5,142.5 506.2,142.6 507.9,142.6 509.6,142.7 511.3,142.8 513.0,142.9 514.7,143.0 516.4,143.1 518.1,143.1 519.9,143.2 521.6,143.3 523.3,143.3 525.0,143.4 526.7,143.4 528.4,143.5 530.1,143.6 531.8,143.6" fill="none" stroke="#7E2F8E" stroke-width="1.45" stroke-dasharray="0.01 2.0" stroke-linecap="round" stroke-linejoin="round"/>
<polyline points="327.3,144.7 329.0,141.5 330.7,135.3 332.4,127.9 334.1,119.8 335.8,111.6 337.5,103.5 339.2,95.9 340.9,88.7 342.6,82.1 344.3,76.2 346.0,71.0 347.7,66.5 349.5,62.6 351.2,59.4 352.9,56.8 354.6,54.8 356.3,53.3 358.0,52.3 359.7,51.8 361.4,51.8 363.1,52.1 364.8,52.8 366.5,53.7 368.2,55.0 369.9,56.4 371.6,58.1 373.3,60.0 375.0,62.0 376.7,64.1 378.4,66.3 380.1,68.6 381.8,71.0 383.5,73.4 385.2,75.9 386.9,78.3 388.6,80.7 390.3,83.2 392.1,85.6 393.8,88.0 395.5,90.3 397.2,92.6 398.9,94.9 400.6,97.1 402.3,99.2 404.0,101.3 405.7,103.3 407.4,105.3 409.1,107.2 410.8,109.0 412.5,110.8 414.2,112.5 415.9,114.1 417.6,115.7 419.3,117.2 421.0,118.6 422.7,120.0 424.4,121.3 426.1,122.6 427.8,123.8 429.5,124.9 431.2,126.0 432.9,127.1 434.7,128.0 436.4,129.0 438.1,129.9 439.8,130.7 441.5,131.5 443.2,132.3 444.9,133.0 446.6,133.7 448.3,134.3 450.0,135.0 451.7,135.5 453.4,136.1 455.1,136.6 456.8,137.1 458.5,137.6 460.2,138.0 461.9,138.4 463.6,138.8 465.3,139.1 467.0,139.5 468.7,139.8 470.4,140.1 472.1,140.4 473.8,140.7 475.5,140.9 477.3,141.2 479.0,141.4 480.7,141.6 482.4,141.8 484.1,142.0 485.8,142.2 487.5,142.3 489.2,142.5 490.9,142.6 492.6,142.8 494.3,142.9 496.0,143.0 497.7,143.1 499.4,143.2 501.1,143.3 502.8,143.4 504.5,143.5 506.2,143.6 507.9,143.6 509.6,143.7 511.3,143.8 513.0,143.8 514.7,143.9 516.4,144.0 518.1,144.0 519.9,144.0 521.6,144.1 523.3,144.1 525.0,144.2 526.7,144.2 528.4,144.2 530.1,144.3 531.8,144.3" fill="none" stroke="#77AC30" stroke-width="1.75" stroke-dasharray="5 4" stroke-linejoin="round"/>
<polyline points="327.3,144.7 329.0,144.7 330.7,144.7 332.4,143.7 334.1,138.1 335.8,125.9 337.5,109.3 339.2,91.4 340.9,74.7 342.6,60.5 344.3,49.2 346.0,40.8 347.7,35.1 349.5,31.6 351.2,29.9 352.9,29.6 354.6,30.6 356.3,32.4 358.0,34.8 359.7,37.8 361.4,41.1 363.1,44.6 364.8,48.3 366.5,52.0 368.2,55.7 369.9,59.4 371.6,63.1 373.3,66.7 375.0,70.1 376.7,73.5 378.4,76.8 380.1,79.9 381.8,82.9 383.5,85.8 385.2,88.5 386.9,91.2 388.6,93.7 390.3,96.1 392.1,98.4 393.8,100.6 395.5,102.6 397.2,104.6 398.9,106.5 400.6,108.3 402.3,110.0 404.0,111.6 405.7,113.1 407.4,114.6 409.1,116.0 410.8,117.3 412.5,118.6 414.2,119.8 415.9,120.9 417.6,122.0 419.3,123.0 421.0,124.0 422.7,124.9 424.4,125.8 426.1,126.7 427.8,127.5 429.5,128.2 431.2,129.0 432.9,129.7 434.7,130.3 436.4,130.9 438.1,131.5 439.8,132.1 441.5,132.7 443.2,133.2 444.9,133.7 446.6,134.2 448.3,134.6 450.0,135.0 451.7,135.4 453.4,135.8 455.1,136.2 456.8,136.6 458.5,136.9 460.2,137.2 461.9,137.6 463.6,137.9 465.3,138.1 467.0,138.4 468.7,138.7 470.4,138.9 472.1,139.2 473.8,139.4 475.5,139.6 477.3,139.8 479.0,140.0 480.7,140.2 482.4,140.4 484.1,140.6 485.8,140.7 487.5,140.9 489.2,141.0 490.9,141.2 492.6,141.3 494.3,141.5 496.0,141.6 497.7,141.7 499.4,141.8 501.1,141.9 502.8,142.0 504.5,142.2 506.2,142.3 507.9,142.3 509.6,142.4 511.3,142.5 513.0,142.6 514.7,142.7 516.4,142.8 518.1,142.8 519.9,142.9 521.6,143.0 523.3,143.1 525.0,143.1 526.7,143.2 528.4,143.2 530.1,143.3 531.8,143.3" fill="none" stroke="#4DBEEE" stroke-width="1.75" stroke-dasharray="4 1.4 1.6 1.4" stroke-linejoin="round"/>
<polyline points="327.3,144.7 329.0,139.4 330.7,134.1 332.4,128.9 334.1,123.8 335.8,118.7 337.5,113.8 339.2,108.9 340.9,104.2 342.6,99.7 344.3,95.4 346.0,91.3 347.7,87.4 349.5,83.7 351.2,80.2 352.9,77.0 354.6,74.1 356.3,71.4 358.0,69.0 359.7,66.8 361.4,64.9 363.1,63.3 364.8,62.0 366.5,61.0 368.2,60.2 369.9,59.7 371.6,59.4 373.3,59.4 375.0,59.6 376.7,60.0 378.4,60.7 380.1,61.5 381.8,62.6 383.5,63.8 385.2,65.2 386.9,66.8 388.6,68.5 390.3,70.3 392.1,72.2 393.8,74.3 395.5,76.4 397.2,78.6 398.9,80.8 400.6,83.1 402.3,85.4 404.0,87.8 405.7,90.1 407.4,92.5 409.1,94.8 410.8,97.2 412.5,99.5 414.2,101.8 415.9,104.0 417.6,106.2 419.3,108.3 421.0,110.4 422.7,112.4 424.4,114.3 426.1,116.2 427.8,118.0 429.5,119.8 431.2,121.4 432.9,123.0 434.7,124.5 436.4,126.0 438.1,127.3 439.8,128.6 441.5,129.8 443.2,131.0 444.9,132.1 446.6,133.1 448.3,134.0 450.0,134.9 451.7,135.8 453.4,136.5 455.1,137.2 456.8,137.9 458.5,138.5 460.2,139.1 461.9,139.6 463.6,140.1 465.3,140.5 467.0,140.9 468.7,141.3 470.4,141.7 472.1,142.0 473.8,142.3 475.5,142.5 477.3,142.7 479.0,143.0 480.7,143.1 482.4,143.3 484.1,143.5 485.8,143.6 487.5,143.7 489.2,143.8 490.9,143.9 492.6,144.0 494.3,144.1 496.0,144.2 497.7,144.2 499.4,144.3 501.1,144.4 502.8,144.4 504.5,144.4 506.2,144.5 507.9,144.5 509.6,144.5 511.3,144.5 513.0,144.6 514.7,144.6 516.4,144.6 518.1,144.6 519.9,144.6 521.6,144.6 523.3,144.6 525.0,144.7 526.7,144.7 528.4,144.7 530.1,144.7 531.8,144.7" fill="none" stroke="#A2142F" stroke-width="1.75" stroke-dasharray="4 1.4 1.6 1.4" stroke-linejoin="round"/>
<polyline points="327.3,144.7 329.0,144.7 330.7,143.3 332.4,138.1 334.1,128.2 335.8,115.2 337.5,100.7 339.2,86.3 340.9,73.1 342.6,61.7 344.3,52.2 346.0,44.8 347.7,39.3 349.5,35.6 351.2,33.4 352.9,32.4 354.6,32.6 356.3,33.6 358.0,35.4 359.7,37.7 361.4,40.5 363.1,43.6 364.8,46.9 366.5,50.4 368.2,54.0 369.9,57.6 371.6,61.2 373.3,64.8 375.0,68.3 376.7,71.8 378.4,75.1 380.1,78.4 381.8,81.5 383.5,84.6 385.2,87.5 386.9,90.3 388.6,92.9 390.3,95.5 392.1,97.9 393.8,100.2 395.5,102.5 397.2,104.6 398.9,106.6 400.6,108.5 402.3,110.3 404.0,112.0 405.7,113.6 407.4,115.1 409.1,116.6 410.8,118.0 412.5,119.3 414.2,120.5 415.9,121.7 417.6,122.8 419.3,123.9 421.0,124.9 422.7,125.8 424.4,126.8 426.1,127.6 427.8,128.4 429.5,129.2 431.2,129.9 432.9,130.6 434.7,131.3 436.4,131.9 438.1,132.5 439.8,133.1 441.5,133.6 443.2,134.1 444.9,134.6 446.6,135.0 448.3,135.5 450.0,135.9 451.7,136.3 453.4,136.6 455.1,137.0 456.8,137.3 458.5,137.7 460.2,138.0 461.9,138.3 463.6,138.5 465.3,138.8 467.0,139.1 468.7,139.3 470.4,139.5 472.1,139.7 473.8,139.9 475.5,140.1 477.3,140.3 479.0,140.5 480.7,140.7 482.4,140.9 484.1,141.0 485.8,141.2 487.5,141.3 489.2,141.4 490.9,141.6 492.6,141.7 494.3,141.8 496.0,141.9 497.7,142.0 499.4,142.1 501.1,142.2 502.8,142.3 504.5,142.4 506.2,142.5 507.9,142.6 509.6,142.7 511.3,142.7 513.0,142.8 514.7,142.9 516.4,143.0 518.1,143.0 519.9,143.1 521.6,143.1 523.3,143.2 525.0,143.3 526.7,143.3 528.4,143.4 530.1,143.4 531.8,143.5" fill="none" stroke="#0072BD" stroke-width="1.75" stroke-dasharray="5 4" stroke-linejoin="round"/>
<polyline points="327.3,144.6 329.0,122.3 330.7,113.2 332.4,106.4 334.1,100.7 335.8,95.8 337.5,91.6 339.2,87.8 340.9,84.4 342.6,81.4 344.3,78.8 346.0,76.4 347.7,74.3 349.5,72.5 351.2,70.9 352.9,69.5 354.6,68.4 356.3,67.5 358.0,66.8 359.7,66.3 361.4,66.0 363.1,65.9 364.8,66.0 366.5,66.2 368.2,66.6 369.9,67.1 371.6,67.7 373.3,68.5 375.0,69.5 376.7,70.5 378.4,71.7 380.1,72.9 381.8,74.2 383.5,75.7 385.2,77.2 386.9,78.7 388.6,80.4 390.3,82.0 392.1,83.8 393.8,85.5 395.5,87.3 397.2,89.1 398.9,91.0 400.6,92.8 402.3,94.7 404.0,96.5 405.7,98.3 407.4,100.2 409.1,102.0 410.8,103.8 412.5,105.6 414.2,107.3 415.9,109.0 417.6,110.7 419.3,112.3 421.0,113.9 422.7,115.5 424.4,117.0 426.1,118.4 427.8,119.9 429.5,121.2 431.2,122.6 432.9,123.8 434.7,125.1 436.4,126.2 438.1,127.4 439.8,128.4 441.5,129.5 443.2,130.4 444.9,131.4 446.6,132.3 448.3,133.1 450.0,133.9 451.7,134.7 453.4,135.4 455.1,136.0 456.8,136.7 458.5,137.3 460.2,137.8 461.9,138.4 463.6,138.9 465.3,139.3 467.0,139.7 468.7,140.1 470.4,140.5 472.1,140.9 473.8,141.2 475.5,141.5 477.3,141.8 479.0,142.0 480.7,142.3 482.4,142.5 484.1,142.7 485.8,142.9 487.5,143.0 489.2,143.2 490.9,143.3 492.6,143.5 494.3,143.6 496.0,143.7 497.7,143.8 499.4,143.9 501.1,144.0 502.8,144.0 504.5,144.1 506.2,144.2 507.9,144.2 509.6,144.3 511.3,144.3 513.0,144.4 514.7,144.4 516.4,144.4 518.1,144.5 519.9,144.5 521.6,144.5 523.3,144.5 525.0,144.6 526.7,144.6 528.4,144.6 530.1,144.6 531.8,144.6" fill="none" stroke="#D95319" stroke-width="1.75" stroke-linejoin="round"/>
<polyline points="327.3,142.6 329.0,140.2 330.7,136.2 332.4,130.3 334.1,122.5 335.8,113.0 337.5,102.1 339.2,90.5 340.9,78.7 342.6,67.3 344.3,56.8 346.0,47.6 347.7,39.9 349.5,33.8 351.2,29.3 352.9,26.4 354.6,24.9 356.3,24.7 358.0,25.6 359.7,27.4 361.4,30.0 363.1,33.3 364.8,36.9 366.5,40.9 368.2,45.2 369.9,49.6 371.6,54.0 373.3,58.5 375.0,62.8 376.7,67.1 378.4,71.3 380.1,75.4 381.8,79.3 383.5,83.0 385.2,86.5 386.9,89.9 388.6,93.1 390.3,96.1 392.1,99.0 393.8,101.7 395.5,104.2 397.2,106.6 398.9,108.8 400.6,111.0 402.3,112.9 404.0,114.8 405.7,116.5 407.4,118.2 409.1,119.7 410.8,121.1 412.5,122.5 414.2,123.7 415.9,124.9 417.6,126.0 419.3,127.1 421.0,128.1 422.7,129.0 424.4,129.8 426.1,130.6 427.8,131.4 429.5,132.1 431.2,132.8 432.9,133.4 434.7,134.0 436.4,134.5 438.1,135.1 439.8,135.6 441.5,136.0 443.2,136.5 444.9,136.9 446.6,137.3 448.3,137.6 450.0,138.0 451.7,138.3 453.4,138.6 455.1,138.9 456.8,139.2 458.5,139.4 460.2,139.7 461.9,139.9 463.6,140.1 465.3,140.3 467.0,140.5 468.7,140.7 470.4,140.9 472.1,141.1 473.8,141.2 475.5,141.4 477.3,141.5 479.0,141.7 480.7,141.8 482.4,141.9 484.1,142.0 485.8,142.1 487.5,142.2 489.2,142.3 490.9,142.4 492.6,142.5 494.3,142.6 496.0,142.7 497.7,142.8 499.4,142.9 501.1,142.9 502.8,143.0 504.5,143.1 506.2,143.1 507.9,143.2 509.6,143.2 511.3,143.3 513.0,143.3 514.7,143.4 516.4,143.4 518.1,143.5 519.9,143.5 521.6,143.6 523.3,143.6 525.0,143.7 526.7,143.7 528.4,143.7 530.1,143.8 531.8,143.8" fill="none" stroke="#EDB120" stroke-width="1.75" stroke-dasharray="1.0 1.1" stroke-linejoin="round"/>
<polyline points="327.3,144.7 329.0,144.7 330.7,144.7 332.4,140.3 334.1,133.8 335.8,125.9 337.5,117.1 339.2,107.9 340.9,98.2 342.6,88.0 344.3,77.3 346.0,66.6 347.7,56.3 349.5,46.5 351.2,37.7 352.9,29.9 354.6,23.3 356.3,18.3 358.0,15.6 359.7,15.6 361.4,17.8 363.1,22.0 364.8,27.8 366.5,34.8 368.2,42.8 369.9,51.3 371.6,60.0 373.3,68.6 375.0,76.9 376.7,84.9 378.4,91.8 380.1,97.0 381.8,100.9 383.5,104.3 385.2,107.0 386.9,109.0 388.6,110.4 390.3,111.4 392.1,112.5 393.8,113.5 395.5,114.3 397.2,114.6 398.9,114.6 400.6,114.6 402.3,114.5 404.0,114.5 405.7,114.5 407.4,114.6 409.1,114.8 410.8,114.9 412.5,115.2 414.2,115.5 415.9,116.0 417.6,116.4 419.3,117.0 421.0,117.6 422.7,118.2 424.4,118.9 426.1,119.5 427.8,120.3 429.5,121.0 431.2,121.8 432.9,122.7 434.7,123.5 436.4,124.3 438.1,125.0 439.8,125.7 441.5,126.3 443.2,126.9 444.9,127.5 446.6,128.2 448.3,129.0 450.0,129.8 451.7,130.7 453.4,131.6 455.1,132.5 456.8,133.3 458.5,134.1 460.2,134.9 461.9,135.6 463.6,136.3 465.3,137.0 467.0,137.6 468.7,138.2 470.4,138.8 472.1,139.3 473.8,139.7 475.5,140.2 477.3,140.6 479.0,141.0 480.7,141.4 482.4,141.7 484.1,142.0 485.8,142.4 487.5,142.6 489.2,142.9 490.9,143.1 492.6,143.3 494.3,143.5 496.0,143.7 497.7,143.8 499.4,143.9 501.1,144.0 502.8,144.1 504.5,144.2 506.2,144.3 507.9,144.4 509.6,144.4 511.3,144.5 513.0,144.6 514.7,144.6 516.4,144.6 518.1,144.7 519.9,144.7 521.6,144.7 523.3,144.7 525.0,144.7 526.7,144.7 528.4,144.7 530.1,144.7 531.8,144.7" fill="none" stroke="#7E2F8E" stroke-width="1.45" stroke-linejoin="round"/>
<path d="M327.30 144.7v-1.6M327.30 4.3v1.6M350.02 144.7v-1.6M350.02 4.3v1.6M372.74 144.7v-1.6M372.74 4.3v1.6M395.46 144.7v-1.6M395.46 4.3v1.6M418.18 144.7v-1.6M418.18 4.3v1.6M440.90 144.7v-1.6M440.90 4.3v1.6M463.62 144.7v-1.6M463.62 4.3v1.6M486.34 144.7v-1.6M486.34 4.3v1.6M509.06 144.7v-1.6M509.06 4.3v1.6M531.78 144.7v-1.6M531.78 4.3v1.6M312.6 144.70h1.6M544.2 144.70h-1.6M312.6 116.62h1.6M544.2 116.62h-1.6M312.6 88.54h1.6M544.2 88.54h-1.6M312.6 60.46h1.6M544.2 60.46h-1.6M312.6 32.38h1.6M544.2 32.38h-1.6M312.6 4.30h1.6M544.2 4.30h-1.6" stroke="#555" stroke-width="0.5" fill="none"/>
<rect x="312.6" y="4.3" width="231.60" height="140.40" fill="none" stroke="#666" stroke-width="0.7"/>
<g font-size="4.8" fill="#333" stroke="#333" stroke-width="0.1"><text transform="translate(327.30,152.72) rotate(0.5) scale(1.31,1)" text-anchor="middle">0</text><text transform="translate(350.02,152.72) rotate(0.5) scale(1.31,1)" text-anchor="middle">2</text><text transform="translate(372.74,152.72) rotate(0.5) scale(1.31,1)" text-anchor="middle">4</text><text transform="translate(395.46,152.72) rotate(0.5) scale(1.31,1)" text-anchor="middle">6</text><text transform="translate(418.18,152.72) rotate(0.5) scale(1.31,1)" text-anchor="middle">8</text><text transform="translate(440.90,152.72) rotate(0.5) scale(1.31,1)" text-anchor="middle">10</text><text transform="translate(463.62,152.72) rotate(0.5) scale(1.31,1)" text-anchor="middle">12</text><text transform="translate(486.34,152.72) rotate(0.5) scale(1.31,1)" text-anchor="middle">14</text><text transform="translate(509.06,152.72) rotate(0.5) scale(1.31,1)" text-anchor="middle">16</text><text transform="translate(531.78,152.72) rotate(0.5) scale(1.31,1)" text-anchor="middle">18</text><text transform="translate(310.20,147.62) rotate(0.5) scale(1.31,1)" text-anchor="end">0</text><text transform="translate(310.20,119.54) rotate(0.5) scale(1.31,1)" text-anchor="end">0.05</text><text transform="translate(310.20,91.46) rotate(0.5) scale(1.31,1)" text-anchor="end">0.1</text><text transform="translate(310.20,63.38) rotate(0.5) scale(1.31,1)" text-anchor="end">0.15</text><text transform="translate(310.20,35.30) rotate(0.5) scale(1.31,1)" text-anchor="end">0.2</text><text transform="translate(310.20,7.22) rotate(0.5) scale(1.31,1)" text-anchor="end">0.25</text></g>
<g font-size="5.2" font-weight="bold" fill="#222" stroke="#222" stroke-width="0.1">
<text transform="translate(429.80,160.40) rotate(0.5) scale(1.31,1)" text-anchor="middle">Wind Speed (m/s)</text>
<text transform="translate(295.00,74.50) rotate(-89.5) scale(1,1.31)" text-anchor="middle">PDF</text>
</g>
<text x="417.70" y="180.90" text-anchor="middle" font-family="'Liberation Serif','DejaVu Serif',serif" font-size="12.6" font-weight="bold" fill="#111">(b)</text>
</g>
<g id="chart-c">
<rect x="26.6" y="207.5" width="232.10" height="147.50" fill="#fff"/>
<path d="M40.40 207.5V355.0M61.90 207.5V355.0M83.40 207.5V355.0M104.90 207.5V355.0M126.40 207.5V355.0M147.90 207.5V355.0M169.40 207.5V355.0M190.90 207.5V355.0M212.40 207.5V355.0M233.90 207.5V355.0M255.40 207.5V355.0M26.6 336.56H258.7M26.6 318.12H258.7M26.6 299.69H258.7M26.6 281.25H258.7M26.6 262.81H258.7M26.6 244.38H258.7M26.6 225.94H258.7" stroke="#dbdbdb" stroke-width="0.55" fill="none"/>
<g fill="#0072BD" stroke="#101010" stroke-width="0.6"><rect x="45.77" y="353.16" width="10.75" height="1.84"/><rect x="56.52" y="347.72" width="10.75" height="7.28"/><rect x="67.28" y="346.33" width="10.75" height="8.67"/><rect x="78.03" y="343.11" width="10.75" height="11.89"/><rect x="88.78" y="336.56" width="10.75" height="18.44"/><rect x="99.53" y="324.85" width="10.75" height="30.15"/><rect x="110.28" y="282.17" width="10.75" height="72.83"/><rect x="121.03" y="260.69" width="10.75" height="94.31"/><rect x="131.78" y="228.33" width="10.75" height="126.67"/><rect x="142.53" y="214.60" width="10.75" height="140.40"/><rect x="153.28" y="216.63" width="10.75" height="138.37"/><rect x="164.03" y="240.41" width="10.75" height="114.59"/><rect x="174.78" y="282.54" width="10.75" height="72.46"/><rect x="185.53" y="310.29" width="10.75" height="44.71"/><rect x="196.28" y="328.54" width="10.75" height="26.46"/><rect x="207.03" y="344.86" width="10.75" height="10.14"/><rect x="217.78" y="350.76" width="10.75" height="4.24"/><rect x="228.53" y="354.08" width="10.75" height="0.92"/></g>
<polyline points="40.4,355.0 42.1,355.0 43.8,355.0 45.5,355.0 47.2,355.0 48.9,354.9 50.6,354.9 52.3,354.8 54.0,354.7 55.7,354.5 57.4,354.3 59.1,354.0 60.8,353.7 62.5,353.4 64.2,352.9 65.9,352.4 67.6,351.8 69.3,351.2 71.0,350.4 72.7,349.5 74.4,348.5 76.1,347.4 77.8,346.2 79.5,344.9 81.2,343.5 83.0,341.9 84.7,340.1 86.4,338.3 88.1,336.3 89.8,334.1 91.5,331.8 93.2,329.3 94.9,326.7 96.6,323.9 98.3,321.0 100.0,317.9 101.7,314.7 103.4,311.3 105.1,307.8 106.8,304.1 108.5,300.4 110.2,296.5 111.9,292.5 113.6,288.4 115.3,284.3 117.0,280.1 118.7,275.9 120.4,271.6 122.1,267.4 123.8,263.2 125.5,259.0 127.2,254.9 128.9,250.9 130.6,247.1 132.3,243.4 134.0,239.9 135.7,236.6 137.4,233.5 139.1,230.7 140.8,228.2 142.5,226.1 144.2,224.3 145.9,222.8 147.6,221.8 149.3,221.1 151.0,220.9 152.7,221.1 154.4,221.7 156.1,222.8 157.8,224.3 159.5,226.2 161.2,228.5 162.9,231.3 164.7,234.4 166.4,237.9 168.1,241.7 169.8,245.9 171.5,250.3 173.2,254.9 174.9,259.7 176.6,264.7 178.3,269.8 180.0,275.0 181.7,280.1 183.4,285.3 185.1,290.4 186.8,295.5 188.5,300.4 190.2,305.2 191.9,309.8 193.6,314.1 195.3,318.3 197.0,322.2 198.7,325.9 200.4,329.3 202.1,332.4 203.8,335.3 205.5,337.9 207.2,340.2 208.9,342.4 210.6,344.2 212.3,345.9 214.0,347.4 215.7,348.6 217.4,349.7 219.1,350.7 220.8,351.5 222.5,352.1 224.2,352.7 225.9,353.2 227.6,353.5 229.3,353.9 231.0,354.1 232.7,354.3 234.4,354.5 236.1,354.6 237.8,354.7 239.5,354.8 241.2,354.8 242.9,354.9 244.7,354.9" fill="none" stroke="#D95319" stroke-width="0.5" stroke-linejoin="round"/>
<polyline points="40.4,355.0 42.1,355.0 43.8,355.0 45.5,355.0 47.2,355.0 48.9,354.9 50.6,354.9 52.3,354.8 54.0,354.7 55.7,354.5 57.4,354.3 59.1,354.0 60.8,353.7 62.5,353.4 64.2,352.9 65.9,352.4 67.6,351.8 69.3,351.2 71.0,350.4 72.7,349.5 74.4,348.5 76.1,347.4 77.8,346.2 79.5,344.9 81.2,343.5 83.0,341.9 84.7,340.1 86.4,338.3 88.1,336.3 89.8,334.1 91.5,331.8 93.2,329.3 94.9,326.7 96.6,323.9 98.3,321.0 100.0,317.9 101.7,314.7 103.4,311.3 105.1,307.8 106.8,304.1 108.5,300.4 110.2,296.5 111.9,292.5 113.6,288.4 115.3,284.3 117.0,280.1 118.7,275.9 120.4,271.6 122.1,267.4 123.8,263.2 125.5,259.0 127.2,254.9 128.9,250.9 130.6,247.1 132.3,243.4 134.0,239.9 135.7,236.6 137.4,233.5 139.1,230.7 140.8,228.2 142.5,226.1 144.2,224.3 145.9,222.8 147.6,221.8 149.3,221.1 151.0,220.9 152.7,221.1 154.4,221.7 156.1,222.8 157.8,224.3 159.5,226.2 161.2,228.5 162.9,231.3 164.7,234.4 166.4,237.9 168.1,241.7 169.8,245.9 171.5,250.3 173.2,254.9 174.9,259.7 176.6,264.7 178.3,269.8 180.0,275.0 181.7,280.1 183.4,285.3 185.1,290.4 186.8,295.5 188.5,300.4 190.2,305.2 191.9,309.8 193.6,314.1 195.3,318.3 197.0,322.2 198.7,325.9 200.4,329.3 202.1,332.4 203.8,335.3 205.5,337.9 207.2,340.2 208.9,342.4 210.6,344.2 212.3,345.9 214.0,347.4 215.7,348.6 217.4,349.7 219.1,350.7 220.8,351.5 222.5,352.1 224.2,352.7 225.9,353.2 227.6,353.5 229.3,353.9 231.0,354.1 232.7,354.3 234.4,354.5 236.1,354.6 237.8,354.7 239.5,354.8 241.2,354.8 242.9,354.9 244.7,354.9" fill="none" stroke="#D95319" stroke-width="1.45" stroke-dasharray="0.01 2.0" stroke-linecap="round" stroke-linejoin="round"/>
<polyline points="40.4,355.0 42.1,352.3 43.8,349.6 45.5,346.9 47.2,344.3 48.9,341.6 50.6,339.0 52.3,336.4 54.0,333.8 55.7,331.2 57.4,328.7 59.1,326.2 60.8,323.7 62.5,321.3 64.2,319.0 65.9,316.6 67.6,314.4 69.3,312.2 71.0,310.0 72.7,307.9 74.4,305.9 76.1,303.9 77.8,302.0 79.5,300.2 81.2,298.4 83.0,296.7 84.7,295.1 86.4,293.5 88.1,292.1 89.8,290.7 91.5,289.4 93.2,288.1 94.9,287.0 96.6,285.9 98.3,284.9 100.0,284.0 101.7,283.1 103.4,282.4 105.1,281.7 106.8,281.1 108.5,280.6 110.2,280.1 111.9,279.8 113.6,279.5 115.3,279.3 117.0,279.1 118.7,279.0 120.4,279.0 122.1,279.1 123.8,279.3 125.5,279.5 127.2,279.7 128.9,280.1 130.6,280.4 132.3,280.9 134.0,281.4 135.7,282.0 137.4,282.6 139.1,283.2 140.8,284.0 142.5,284.7 144.2,285.5 145.9,286.4 147.6,287.2 149.3,288.2 151.0,289.1 152.7,290.1 154.4,291.1 156.1,292.1 157.8,293.2 159.5,294.3 161.2,295.4 162.9,296.5 164.7,297.7 166.4,298.8 168.1,300.0 169.8,301.2 171.5,302.4 173.2,303.6 174.9,304.8 176.6,306.0 178.3,307.2 180.0,308.4 181.7,309.6 183.4,310.8 185.1,312.0 186.8,313.1 188.5,314.3 190.2,315.5 191.9,316.6 193.6,317.8 195.3,318.9 197.0,320.0 198.7,321.1 200.4,322.2 202.1,323.3 203.8,324.3 205.5,325.4 207.2,326.4 208.9,327.4 210.6,328.4 212.3,329.3 214.0,330.2 215.7,331.2 217.4,332.1 219.1,332.9 220.8,333.8 222.5,334.6 224.2,335.4 225.9,336.2 227.6,337.0 229.3,337.7 231.0,338.4 232.7,339.1 234.4,339.8 236.1,340.5 237.8,341.1 239.5,341.7 241.2,342.3 242.9,342.9 244.7,343.4" fill="none" stroke="#EDB120" stroke-width="0.9" stroke-linejoin="round"/>
<polyline points="40.4,355.0 42.1,355.0 43.8,355.0 45.5,355.0 47.2,355.0 48.9,355.0 50.6,355.0 52.3,355.0 54.0,355.0 55.7,355.0 57.4,355.0 59.1,355.0 60.8,355.0 62.5,355.0 64.2,355.0 65.9,354.9 67.6,354.9 69.3,354.7 71.0,354.4 72.7,354.0 74.4,353.3 76.1,352.3 77.8,350.9 79.5,349.1 81.2,346.9 83.0,344.1 84.7,340.9 86.4,337.1 88.1,332.9 89.8,328.2 91.5,323.2 93.2,317.8 94.9,312.1 96.6,306.3 98.3,300.4 100.0,294.4 101.7,288.4 103.4,282.6 105.1,276.9 106.8,271.5 108.5,266.3 110.2,261.5 111.9,257.0 113.6,253.0 115.3,249.3 117.0,246.0 118.7,243.2 120.4,240.8 122.1,238.9 123.8,237.4 125.5,236.2 127.2,235.5 128.9,235.2 130.6,235.2 132.3,235.6 134.0,236.3 135.7,237.2 137.4,238.5 139.1,240.0 140.8,241.7 142.5,243.6 144.2,245.8 145.9,248.0 147.6,250.4 149.3,252.9 151.0,255.5 152.7,258.2 154.4,261.0 156.1,263.8 157.8,266.6 159.5,269.4 161.2,272.3 162.9,275.1 164.7,278.0 166.4,280.8 168.1,283.5 169.8,286.3 171.5,289.0 173.2,291.6 174.9,294.2 176.6,296.7 178.3,299.2 180.0,301.6 181.7,304.0 183.4,306.2 185.1,308.4 186.8,310.6 188.5,312.6 190.2,314.6 191.9,316.5 193.6,318.4 195.3,320.1 197.0,321.8 198.7,323.5 200.4,325.1 202.1,326.6 203.8,328.0 205.5,329.4 207.2,330.7 208.9,332.0 210.6,333.2 212.3,334.3 214.0,335.4 215.7,336.5 217.4,337.5 219.1,338.4 220.8,339.3 222.5,340.2 224.2,341.0 225.9,341.7 227.6,342.5 229.3,343.2 231.0,343.8 232.7,344.5 234.4,345.1 236.1,345.6 237.8,346.2 239.5,346.7 241.2,347.1 242.9,347.6 244.7,348.0" fill="none" stroke="#7E2F8E" stroke-width="0.5" stroke-linejoin="round"/>
<polyline points="40.4,355.0 42.1,355.0 43.8,355.0 45.5,355.0 47.2,355.0 48.9,355.0 50.6,355.0 52.3,355.0 54.0,355.0 55.7,355.0 57.4,355.0 59.1,355.0 60.8,355.0 62.5,355.0 64.2,355.0 65.9,354.9 67.6,354.9 69.3,354.7 71.0,354.4 72.7,354.0 74.4,353.3 76.1,352.3 77.8,350.9 79.5,349.1 81.2,346.9 83.0,344.1 84.7,340.9 86.4,337.1 88.1,332.9 89.8,328.2 91.5,323.2 93.2,317.8 94.9,312.1 96.6,306.3 98.3,300.4 100.0,294.4 101.7,288.4 103.4,282.6 105.1,276.9 106.8,271.5 108.5,266.3 110.2,261.5 111.9,257.0 113.6,253.0 115.3,249.3 117.0,246.0 118.7,243.2 120.4,240.8 122.1,238.9 123.8,237.4 125.5,236.2 127.2,235.5 128.9,235.2 130.6,235.2 132.3,235.6 134.0,236.3 135.7,237.2 137.4,238.5 139.1,240.0 140.8,241.7 142.5,243.6 144.2,245.8 145.9,248.0 147.6,250.4 149.3,252.9 151.0,255.5 152.7,258.2 154.4,261.0 156.1,263.8 157.8,266.6 159.5,269.4 161.2,272.3 162.9,275.1 164.7,278.0 166.4,280.8 168.1,283.5 169.8,286.3 171.5,289.0 173.2,291.6 174.9,294.2 176.6,296.7 178.3,299.2 180.0,301.6 181.7,304.0 183.4,306.2 185.1,308.4 186.8,310.6 188.5,312.6 190.2,314.6 191.9,316.5 193.6,318.4 195.3,320.1 197.0,321.8 198.7,323.5 200.4,325.1 202.1,326.6 203.8,328.0 205.5,329.4 207.2,330.7 208.9,332.0 210.6,333.2 212.3,334.3 214.0,335.4 215.7,336.5 217.4,337.5 219.1,338.4 220.8,339.3 222.5,340.2 224.2,341.0 225.9,341.7 227.6,342.5 229.3,343.2 231.0,343.8 232.7,344.5 234.4,345.1 236.1,345.6 237.8,346.2 239.5,346.7 241.2,347.1 242.9,347.6 244.7,348.0" fill="none" stroke="#7E2F8E" stroke-width="1.45" stroke-dasharray="0.01 2.0" stroke-linecap="round" stroke-linejoin="round"/>
<polyline points="40.4,355.0 42.1,355.0 43.8,355.0 45.5,355.0 47.2,355.0 48.9,355.0 50.6,355.0 52.3,355.0 54.0,355.0 55.7,355.0 57.4,355.0 59.1,355.0 60.8,355.0 62.5,354.9 64.2,354.9 65.9,354.8 67.6,354.7 69.3,354.5 71.0,354.2 72.7,353.9 74.4,353.4 76.1,352.8 77.8,352.0 79.5,351.0 81.2,349.7 83.0,348.2 84.7,346.5 86.4,344.4 88.1,342.0 89.8,339.3 91.5,336.3 93.2,332.9 94.9,329.2 96.6,325.2 98.3,320.9 100.0,316.4 101.7,311.6 103.4,306.6 105.1,301.5 106.8,296.2 108.5,290.9 110.2,285.5 111.9,280.1 113.6,274.9 115.3,269.7 117.0,264.7 118.7,259.9 120.4,255.3 122.1,251.0 123.8,247.0 125.5,243.3 127.2,240.0 128.9,237.1 130.6,234.6 132.3,232.5 134.0,230.8 135.7,229.4 137.4,228.6 139.1,228.1 140.8,228.0 142.5,228.3 144.2,228.9 145.9,229.9 147.6,231.3 149.3,232.9 151.0,234.8 152.7,237.0 154.4,239.5 156.1,242.1 157.8,245.0 159.5,248.0 161.2,251.1 162.9,254.4 164.7,257.7 166.4,261.1 168.1,264.6 169.8,268.1 171.5,271.6 173.2,275.2 174.9,278.7 176.6,282.2 178.3,285.6 180.0,289.0 181.7,292.3 183.4,295.5 185.1,298.7 186.8,301.7 188.5,304.7 190.2,307.6 191.9,310.3 193.6,313.0 195.3,315.5 197.0,318.0 198.7,320.3 200.4,322.5 202.1,324.7 203.8,326.7 205.5,328.6 207.2,330.4 208.9,332.1 210.6,333.7 212.3,335.2 214.0,336.7 215.7,338.0 217.4,339.3 219.1,340.5 220.8,341.6 222.5,342.6 224.2,343.6 225.9,344.5 227.6,345.3 229.3,346.1 231.0,346.8 232.7,347.5 234.4,348.1 236.1,348.7 237.8,349.2 239.5,349.7 241.2,350.1 242.9,350.6 244.7,350.9" fill="none" stroke="#77AC30" stroke-width="1.75" stroke-dasharray="5 4" stroke-linejoin="round"/>
<polyline points="40.4,355.0 42.1,355.0 43.8,355.0 45.5,355.0 47.2,355.0 48.9,355.0 50.6,355.0 52.3,355.0 54.0,355.0 55.7,355.0 57.4,355.0 59.1,355.0 60.8,355.0 62.5,355.0 64.2,355.0 65.9,354.9 67.6,354.9 69.3,354.7 71.0,354.4 72.7,354.0 74.4,353.3 76.1,352.3 77.8,350.9 79.5,349.1 81.2,346.8 83.0,344.0 84.7,340.7 86.4,336.8 88.1,332.5 89.8,327.7 91.5,322.6 93.2,317.1 94.9,311.3 96.6,305.4 98.3,299.4 100.0,293.3 101.7,287.3 103.4,281.4 105.1,275.7 106.8,270.2 108.5,265.1 110.2,260.3 111.9,255.8 113.6,251.8 115.3,248.2 117.0,245.0 118.7,242.3 120.4,240.0 122.1,238.1 123.8,236.7 125.5,235.7 127.2,235.1 128.9,234.9 130.6,235.0 132.3,235.5 134.0,236.3 135.7,237.4 137.4,238.7 139.1,240.3 140.8,242.1 142.5,244.1 144.2,246.3 145.9,248.6 147.6,251.1 149.3,253.6 151.0,256.3 152.7,259.0 154.4,261.8 156.1,264.6 157.8,267.4 159.5,270.3 161.2,273.2 162.9,276.0 164.7,278.8 166.4,281.6 168.1,284.4 169.8,287.1 171.5,289.8 173.2,292.4 174.9,295.0 176.6,297.5 178.3,299.9 180.0,302.3 181.7,304.6 183.4,306.9 185.1,309.0 186.8,311.1 188.5,313.2 190.2,315.1 191.9,317.0 193.6,318.8 195.3,320.6 197.0,322.2 198.7,323.8 200.4,325.4 202.1,326.9 203.8,328.3 205.5,329.6 207.2,330.9 208.9,332.2 210.6,333.4 212.3,334.5 214.0,335.6 215.7,336.6 217.4,337.6 219.1,338.5 220.8,339.4 222.5,340.2 224.2,341.0 225.9,341.8 227.6,342.5 229.3,343.2 231.0,343.8 232.7,344.5 234.4,345.0 236.1,345.6 237.8,346.1 239.5,346.6 241.2,347.1 242.9,347.5 244.7,348.0" fill="none" stroke="#4DBEEE" stroke-width="1.75" stroke-dasharray="4 1.4 1.6 1.4" stroke-linejoin="round"/>
<polyline points="40.4,355.0 42.1,355.0 43.8,354.9 45.5,354.9 47.2,354.8 48.9,354.7 50.6,354.7 52.3,354.6 54.0,354.4 55.7,354.3 57.4,354.1 59.1,353.9 60.8,353.7 62.5,353.4 64.2,353.1 65.9,352.7 67.6,352.3 69.3,351.8 71.0,351.2 72.7,350.5 74.4,349.8 76.1,348.9 77.8,347.9 79.5,346.8 81.2,345.5 83.0,344.1 84.7,342.5 86.4,340.8 88.1,338.9 89.8,336.7 91.5,334.4 93.2,331.9 94.9,329.2 96.6,326.3 98.3,323.1 100.0,319.7 101.7,316.2 103.4,312.4 105.1,308.4 106.8,304.3 108.5,299.9 110.2,295.4 111.9,290.8 113.6,286.1 115.3,281.3 117.0,276.4 118.7,271.5 120.4,266.6 122.1,261.7 123.8,257.0 125.5,252.3 127.2,247.8 128.9,243.5 130.6,239.4 132.3,235.6 134.0,232.1 135.7,229.0 137.4,226.2 139.1,223.8 140.8,221.8 142.5,220.3 144.2,219.2 145.9,218.5 147.6,218.4 149.3,218.7 151.0,219.5 152.7,220.7 154.4,222.4 156.1,224.5 157.8,227.0 159.5,229.9 161.2,233.1 162.9,236.7 164.7,240.5 166.4,244.7 168.1,249.0 169.8,253.5 171.5,258.1 173.2,262.8 174.9,267.6 176.6,272.5 178.3,277.3 180.0,282.1 181.7,286.8 183.4,291.5 185.1,296.0 186.8,300.4 188.5,304.6 190.2,308.7 191.9,312.6 193.6,316.3 195.3,319.7 197.0,323.0 198.7,326.1 200.4,329.0 202.1,331.6 203.8,334.1 205.5,336.3 207.2,338.4 208.9,340.3 210.6,342.0 212.3,343.6 214.0,345.0 215.7,346.3 217.4,347.4 219.1,348.4 220.8,349.3 222.5,350.1 224.2,350.8 225.9,351.4 227.6,351.9 229.3,352.4 231.0,352.8 232.7,353.1 234.4,353.4 236.1,353.7 237.8,353.9 239.5,354.1 241.2,354.2 242.9,354.4 244.7,354.5" fill="none" stroke="#A2142F" stroke-width="1.75" stroke-dasharray="4 1.4 1.6 1.4" stroke-linejoin="round"/>
<polyline points="40.4,355.0 42.1,355.0 43.8,355.0 45.5,355.0 47.2,355.0 48.9,355.0 50.6,355.0 52.3,355.0 54.0,355.0 55.7,355.0 57.4,355.0 59.1,355.0 60.8,355.0 62.5,355.0 64.2,355.0 65.9,354.9 67.6,354.8 69.3,354.6 71.0,354.3 72.7,353.9 74.4,353.2 76.1,352.4 77.8,351.2 79.5,349.7 81.2,347.8 83.0,345.5 84.7,342.7 86.4,339.5 88.1,335.9 89.8,331.8 91.5,327.3 93.2,322.5 94.9,317.3 96.6,311.9 98.3,306.3 100.0,300.6 101.7,294.8 103.4,289.0 105.1,283.3 106.8,277.7 108.5,272.4 110.2,267.2 111.9,262.4 113.6,257.8 115.3,253.7 117.0,249.9 118.7,246.5 120.4,243.6 122.1,241.1 123.8,239.0 125.5,237.3 127.2,236.1 128.9,235.2 130.6,234.8 132.3,234.7 134.0,235.0 135.7,235.6 137.4,236.6 139.1,237.8 140.8,239.3 142.5,241.0 144.2,242.9 145.9,245.0 147.6,247.3 149.3,249.8 151.0,252.3 152.7,255.0 154.4,257.8 156.1,260.6 157.8,263.5 159.5,266.4 161.2,269.3 162.9,272.2 164.7,275.1 166.4,278.0 168.1,280.9 169.8,283.8 171.5,286.6 173.2,289.3 174.9,292.0 176.6,294.7 178.3,297.3 180.0,299.8 181.7,302.2 183.4,304.6 185.1,306.9 186.8,309.1 188.5,311.2 190.2,313.3 191.9,315.3 193.6,317.2 195.3,319.1 197.0,320.8 198.7,322.5 200.4,324.2 202.1,325.7 203.8,327.2 205.5,328.6 207.2,330.0 208.9,331.3 210.6,332.5 212.3,333.7 214.0,334.9 215.7,335.9 217.4,336.9 219.1,337.9 220.8,338.8 222.5,339.7 224.2,340.6 225.9,341.3 227.6,342.1 229.3,342.8 231.0,343.5 232.7,344.1 234.4,344.7 236.1,345.3 237.8,345.8 239.5,346.4 241.2,346.8 242.9,347.3 244.7,347.7" fill="none" stroke="#0072BD" stroke-width="1.75" stroke-dasharray="5 4" stroke-linejoin="round"/>
<polyline points="40.4,355.0 42.1,355.0 43.8,355.0 45.5,355.0 47.2,355.0 48.9,355.0 50.6,355.0 52.3,355.0 54.0,355.0 55.7,355.0 57.4,354.9 59.1,354.9 60.8,354.8 62.5,354.7 64.2,354.5 65.9,354.3 67.6,354.1 69.3,353.7 71.0,353.3 72.7,352.7 74.4,352.0 76.1,351.2 77.8,350.2 79.5,349.1 81.2,347.7 83.0,346.2 84.7,344.4 86.4,342.4 88.1,340.2 89.8,337.7 91.5,335.0 93.2,332.0 94.9,328.8 96.6,325.3 98.3,321.6 100.0,317.7 101.7,313.6 103.4,309.3 105.1,304.8 106.8,300.1 108.5,295.4 110.2,290.5 111.9,285.6 113.6,280.7 115.3,275.8 117.0,271.0 118.7,266.2 120.4,261.6 122.1,257.1 123.8,252.8 125.5,248.7 127.2,244.9 128.9,241.3 130.6,238.1 132.3,235.2 134.0,232.7 135.7,230.5 137.4,228.7 139.1,227.3 140.8,226.2 142.5,225.6 144.2,225.4 145.9,225.6 147.6,226.1 149.3,227.0 151.0,228.3 152.7,229.9 154.4,231.9 156.1,234.1 157.8,236.7 159.5,239.5 161.2,242.5 162.9,245.8 164.7,249.2 166.4,252.8 168.1,256.5 169.8,260.3 171.5,264.2 173.2,268.1 174.9,272.1 176.6,276.1 178.3,280.0 180.0,284.0 181.7,287.9 183.4,291.7 185.1,295.5 186.8,299.1 188.5,302.7 190.2,306.1 191.9,309.4 193.6,312.6 195.3,315.6 197.0,318.5 198.7,321.3 200.4,323.9 202.1,326.4 203.8,328.7 205.5,330.9 207.2,333.0 208.9,334.9 210.6,336.7 212.3,338.4 214.0,339.9 215.7,341.4 217.4,342.7 219.1,343.9 220.8,345.0 222.5,346.0 224.2,347.0 225.9,347.8 227.6,348.6 229.3,349.3 231.0,349.9 232.7,350.5 234.4,351.0 236.1,351.5 237.8,351.9 239.5,352.3 241.2,352.6 242.9,352.9 244.7,353.2" fill="none" stroke="#D95319" stroke-width="1.75" stroke-linejoin="round"/>
<polyline points="40.4,354.9 42.1,354.9 43.8,354.8 45.5,354.8 47.2,354.7 48.9,354.6 50.6,354.5 52.3,354.4 54.0,354.3 55.7,354.1 57.4,353.9 59.1,353.7 60.8,353.4 62.5,353.1 64.2,352.7 65.9,352.2 67.6,351.7 69.3,351.1 71.0,350.4 72.7,349.6 74.4,348.7 76.1,347.7 77.8,346.5 79.5,345.2 81.2,343.8 83.0,342.2 84.7,340.4 86.4,338.5 88.1,336.4 89.8,334.1 91.5,331.6 93.2,328.9 94.9,326.1 96.6,323.0 98.3,319.8 100.0,316.4 101.7,312.8 103.4,309.1 105.1,305.2 106.8,301.2 108.5,297.1 110.2,292.9 111.9,288.6 113.6,284.3 115.3,279.9 117.0,275.6 118.7,271.3 120.4,267.0 122.1,262.8 123.8,258.8 125.5,254.9 127.2,251.1 128.9,247.6 130.6,244.3 132.3,241.2 134.0,238.4 135.7,235.8 137.4,233.6 139.1,231.7 140.8,230.1 142.5,228.9 144.2,228.0 145.9,227.5 147.6,227.3 149.3,227.5 151.0,228.0 152.7,228.9 154.4,230.2 156.1,231.7 157.8,233.6 159.5,235.7 161.2,238.2 162.9,240.9 164.7,243.8 166.4,247.0 168.1,250.3 169.8,253.9 171.5,257.6 173.2,261.4 174.9,265.3 176.6,269.3 178.3,273.4 180.0,277.5 181.7,281.7 183.4,285.8 185.1,289.9 186.8,294.0 188.5,298.0 190.2,302.0 191.9,305.9 193.6,309.6 195.3,313.3 197.0,316.8 198.7,320.2 200.4,323.5 202.1,326.6 203.8,329.5 205.5,332.3 207.2,334.9 208.9,337.4 210.6,339.7 212.3,341.8 214.0,343.7 215.7,345.5 217.4,347.1 219.1,348.6 220.8,349.9 222.5,351.0 224.2,351.9 225.9,352.8 227.6,353.4 229.3,354.0 231.0,354.4 232.7,354.7 234.4,354.9 236.1,355.0 237.8,355.0 239.5,355.0 241.2,355.0 242.9,355.0 244.7,355.0" fill="none" stroke="#EDB120" stroke-width="1.75" stroke-dasharray="1.0 1.1" stroke-linejoin="round"/>
<polyline points="40.4,355.0 42.1,355.0 43.8,354.8 45.5,354.6 47.2,354.3 48.9,353.8 50.6,353.3 52.3,352.7 54.0,352.1 55.7,351.3 57.4,350.5 59.1,349.7 60.8,349.0 62.5,348.3 64.2,347.8 65.9,347.4 67.6,347.2 69.3,347.0 71.0,346.8 72.7,346.7 74.4,346.5 76.1,346.1 77.8,345.7 79.5,345.2 81.2,344.6 83.0,344.1 84.7,343.5 86.4,342.9 88.1,342.2 89.8,341.4 91.5,340.4 93.2,339.2 94.9,337.8 96.6,336.5 98.3,335.2 100.0,333.7 101.7,331.9 103.4,329.7 105.1,327.0 106.8,323.9 108.5,320.3 110.2,316.5 111.9,312.4 113.6,308.1 115.3,303.6 117.0,298.9 118.7,294.1 120.4,289.2 122.1,284.3 123.8,279.4 125.5,274.5 127.2,269.8 128.9,265.1 130.6,260.4 132.3,255.7 134.0,251.2 135.7,246.7 137.4,242.3 139.1,238.2 140.8,234.2 142.5,230.5 144.2,227.2 145.9,224.3 147.6,221.8 149.3,219.8 151.0,218.1 152.7,216.9 154.4,216.0 156.1,215.5 157.8,215.4 159.5,215.8 161.2,216.7 162.9,218.1 164.7,220.1 166.4,222.5 168.1,225.5 169.8,229.0 171.5,232.9 173.2,237.5 174.9,242.6 176.6,248.1 178.3,253.9 180.0,259.8 181.7,265.7 183.4,271.5 185.1,277.0 186.8,282.4 188.5,287.7 190.2,292.9 191.9,298.0 193.6,302.8 195.3,307.4 197.0,311.7 198.7,315.8 200.4,319.8 202.1,323.8 203.8,327.6 205.5,331.3 207.2,334.7 208.9,337.8 210.6,340.6 212.3,342.9 214.0,344.9 215.7,346.5 217.4,347.9 219.1,349.2 220.8,350.2 222.5,351.0 224.2,351.8 225.9,352.4 227.6,352.9 229.3,353.3 231.0,353.7 232.7,353.9 234.4,354.1 236.1,354.3 237.8,354.4 239.5,354.6 241.2,354.7 242.9,354.7 244.7,354.8" fill="none" stroke="#7E2F8E" stroke-width="1.45" stroke-linejoin="round"/>
<path d="M40.40 355.0v-1.6M40.40 207.5v1.6M61.90 355.0v-1.6M61.90 207.5v1.6M83.40 355.0v-1.6M83.40 207.5v1.6M104.90 355.0v-1.6M104.90 207.5v1.6M126.40 355.0v-1.6M126.40 207.5v1.6M147.90 355.0v-1.6M147.90 207.5v1.6M169.40 355.0v-1.6M169.40 207.5v1.6M190.90 355.0v-1.6M190.90 207.5v1.6M212.40 355.0v-1.6M212.40 207.5v1.6M233.90 355.0v-1.6M233.90 207.5v1.6M255.40 355.0v-1.6M255.40 207.5v1.6M26.6 355.00h1.6M258.7 355.00h-1.6M26.6 336.56h1.6M258.7 336.56h-1.6M26.6 318.12h1.6M258.7 318.12h-1.6M26.6 299.69h1.6M258.7 299.69h-1.6M26.6 281.25h1.6M258.7 281.25h-1.6M26.6 262.81h1.6M258.7 262.81h-1.6M26.6 244.38h1.6M258.7 244.38h-1.6M26.6 225.94h1.6M258.7 225.94h-1.6M26.6 207.50h1.6M258.7 207.50h-1.6" stroke="#555" stroke-width="0.5" fill="none"/>
<rect x="26.6" y="207.5" width="232.10" height="147.50" fill="none" stroke="#666" stroke-width="0.7"/>
<g font-size="4.5" fill="#333" stroke="#333" stroke-width="0.1"><text transform="translate(40.40,362.81) rotate(0.5) scale(1.31,1)" text-anchor="middle">0</text><text transform="translate(61.90,362.81) rotate(0.5) scale(1.31,1)" text-anchor="middle">2</text><text transform="translate(83.40,362.81) rotate(0.5) scale(1.31,1)" text-anchor="middle">4</text><text transform="translate(104.90,362.81) rotate(0.5) scale(1.31,1)" text-anchor="middle">6</text><text transform="translate(126.40,362.81) rotate(0.5) scale(1.31,1)" text-anchor="middle">8</text><text transform="translate(147.90,362.81) rotate(0.5) scale(1.31,1)" text-anchor="middle">10</text><text transform="translate(169.40,362.81) rotate(0.5) scale(1.31,1)" text-anchor="middle">12</text><text transform="translate(190.90,362.81) rotate(0.5) scale(1.31,1)" text-anchor="middle">14</text><text transform="translate(212.40,362.81) rotate(0.5) scale(1.31,1)" text-anchor="middle">16</text><text transform="translate(233.90,362.81) rotate(0.5) scale(1.31,1)" text-anchor="middle">18</text><text transform="translate(255.40,362.81) rotate(0.5) scale(1.31,1)" text-anchor="middle">20</text><text transform="translate(24.20,357.81) rotate(0.5) scale(1.31,1)" text-anchor="end">0</text><text transform="translate(24.20,339.37) rotate(0.5) scale(1.31,1)" text-anchor="end">0.02</text><text transform="translate(24.20,320.94) rotate(0.5) scale(1.31,1)" text-anchor="end">0.04</text><text transform="translate(24.20,302.50) rotate(0.5) scale(1.31,1)" text-anchor="end">0.06</text><text transform="translate(24.20,284.06) rotate(0.5) scale(1.31,1)" text-anchor="end">0.08</text><text transform="translate(24.20,265.62) rotate(0.5) scale(1.31,1)" text-anchor="end">0.1</text><text transform="translate(24.20,247.19) rotate(0.5) scale(1.31,1)" text-anchor="end">0.12</text><text transform="translate(24.20,228.75) rotate(0.5) scale(1.31,1)" text-anchor="end">0.14</text><text transform="translate(24.20,210.31) rotate(0.5) scale(1.31,1)" text-anchor="end">0.16</text></g>
<g font-size="4.9" font-weight="bold" fill="#222" stroke="#222" stroke-width="0.1">
<text transform="translate(142.65,370.40) rotate(0.5) scale(1.31,1)" text-anchor="middle">Wind Speed (m/s)</text>
<text transform="translate(9.30,281.25) rotate(-89.5) scale(1,1.31)" text-anchor="middle">PDF</text>
</g>
<text x="132.10" y="390.60" text-anchor="middle" font-family="'Liberation Serif','DejaVu Serif',serif" font-size="12.4" stroke="#111" stroke-width="0.3" fill="#111">(c)</text>
</g>
<g id="chart-d">
<rect x="312.6" y="208.5" width="234.40" height="147.00" fill="#fff"/>
<path d="M329.40 208.5V355.5M356.16 208.5V355.5M382.92 208.5V355.5M409.68 208.5V355.5M436.44 208.5V355.5M463.20 208.5V355.5M489.96 208.5V355.5M516.72 208.5V355.5M543.48 208.5V355.5M312.6 326.10H547.0M312.6 296.70H547.0M312.6 267.30H547.0M312.6 237.90H547.0" stroke="#dbdbdb" stroke-width="0.55" fill="none"/>
<g fill="#0072BD" stroke="#3a3a3a" stroke-width="0.6"><rect x="322.71" y="353.74" width="13.38" height="1.76"/><rect x="336.09" y="330.86" width="13.38" height="24.64"/><rect x="349.47" y="271.47" width="13.38" height="84.03"/><rect x="362.85" y="234.02" width="13.38" height="121.48"/><rect x="376.23" y="241.13" width="13.38" height="114.37"/><rect x="389.61" y="274.94" width="13.38" height="80.56"/><rect x="402.99" y="294.35" width="13.38" height="61.15"/><rect x="416.37" y="319.63" width="13.38" height="35.87"/><rect x="429.75" y="332.86" width="13.38" height="22.64"/><rect x="443.13" y="339.15" width="13.38" height="16.35"/><rect x="456.51" y="343.39" width="13.38" height="12.11"/><rect x="469.89" y="349.68" width="13.38" height="5.82"/><rect x="483.27" y="350.91" width="13.38" height="4.59"/><rect x="496.65" y="352.68" width="13.38" height="2.82"/><rect x="510.03" y="354.21" width="13.38" height="1.29"/><rect x="523.41" y="354.91" width="13.38" height="0.59"/></g>
<polyline points="329.4,355.5 331.1,349.5 332.7,343.6 334.4,337.9 336.1,332.3 337.8,326.8 339.4,321.4 341.1,316.2 342.8,311.2 344.5,306.3 346.1,301.6 347.8,297.0 349.5,292.7 351.1,288.7 352.8,284.8 354.5,281.2 356.2,277.8 357.8,274.7 359.5,271.8 361.2,269.2 362.8,266.9 364.5,264.8 366.2,263.0 367.9,261.5 369.5,260.2 371.2,259.2 372.9,258.4 374.6,257.9 376.2,257.7 377.9,257.6 379.6,257.8 381.2,258.2 382.9,258.9 384.6,259.7 386.3,260.7 387.9,261.9 389.6,263.2 391.3,264.7 393.0,266.4 394.6,268.2 396.3,270.0 398.0,272.1 399.6,274.1 401.3,276.3 403.0,278.6 404.7,280.9 406.3,283.2 408.0,285.6 409.7,288.1 411.4,290.5 413.0,293.0 414.7,295.4 416.4,297.9 418.0,300.3 419.7,302.7 421.4,305.1 423.1,307.4 424.7,309.7 426.4,312.0 428.1,314.2 429.8,316.3 431.4,318.4 433.1,320.4 434.8,322.4 436.4,324.3 438.1,326.1 439.8,327.8 441.5,329.5 443.1,331.2 444.8,332.7 446.5,334.2 448.1,335.6 449.8,336.9 451.5,338.2 453.2,339.4 454.8,340.6 456.5,341.6 458.2,342.6 459.9,343.6 461.5,344.5 463.2,345.4 464.9,346.2 466.5,346.9 468.2,347.6 469.9,348.2 471.6,348.8 473.2,349.4 474.9,349.9 476.6,350.4 478.3,350.8 479.9,351.3 481.6,351.6 483.3,352.0 484.9,352.3 486.6,352.6 488.3,352.9 490.0,353.1 491.6,353.4 493.3,353.6 495.0,353.8 496.6,353.9 498.3,354.1 500.0,354.2 501.7,354.4 503.3,354.5 505.0,354.6 506.7,354.7 508.4,354.8 510.0,354.9 511.7,354.9 513.4,355.0 515.0,355.0 516.7,355.1 518.4,355.1 520.1,355.2 521.7,355.2 523.4,355.3 525.1,355.3 526.8,355.3 528.4,355.3 530.1,355.4" fill="none" stroke="#D95319" stroke-width="0.5" stroke-linejoin="round"/>
<polyline points="329.4,355.5 331.1,349.5 332.7,343.6 334.4,337.9 336.1,332.3 337.8,326.8 339.4,321.4 341.1,316.2 342.8,311.2 344.5,306.3 346.1,301.6 347.8,297.0 349.5,292.7 351.1,288.7 352.8,284.8 354.5,281.2 356.2,277.8 357.8,274.7 359.5,271.8 361.2,269.2 362.8,266.9 364.5,264.8 366.2,263.0 367.9,261.5 369.5,260.2 371.2,259.2 372.9,258.4 374.6,257.9 376.2,257.7 377.9,257.6 379.6,257.8 381.2,258.2 382.9,258.9 384.6,259.7 386.3,260.7 387.9,261.9 389.6,263.2 391.3,264.7 393.0,266.4 394.6,268.2 396.3,270.0 398.0,272.1 399.6,274.1 401.3,276.3 403.0,278.6 404.7,280.9 406.3,283.2 408.0,285.6 409.7,288.1 411.4,290.5 413.0,293.0 414.7,295.4 416.4,297.9 418.0,300.3 419.7,302.7 421.4,305.1 423.1,307.4 424.7,309.7 426.4,312.0 428.1,314.2 429.8,316.3 431.4,318.4 433.1,320.4 434.8,322.4 436.4,324.3 438.1,326.1 439.8,327.8 441.5,329.5 443.1,331.2 444.8,332.7 446.5,334.2 448.1,335.6 449.8,336.9 451.5,338.2 453.2,339.4 454.8,340.6 456.5,341.6 458.2,342.6 459.9,343.6 461.5,344.5 463.2,345.4 464.9,346.2 466.5,346.9 468.2,347.6 469.9,348.2 471.6,348.8 473.2,349.4 474.9,349.9 476.6,350.4 478.3,350.8 479.9,351.3 481.6,351.6 483.3,352.0 484.9,352.3 486.6,352.6 488.3,352.9 490.0,353.1 491.6,353.4 493.3,353.6 495.0,353.8 496.6,353.9 498.3,354.1 500.0,354.2 501.7,354.4 503.3,354.5 505.0,354.6 506.7,354.7 508.4,354.8 510.0,354.9 511.7,354.9 513.4,355.0 515.0,355.0 516.7,355.1 518.4,355.1 520.1,355.2 521.7,355.2 523.4,355.3 525.1,355.3 526.8,355.3 528.4,355.3 530.1,355.4" fill="none" stroke="#D95319" stroke-width="1.45" stroke-dasharray="0.01 2.0" stroke-linecap="round" stroke-linejoin="round"/>
<polyline points="329.4,355.5 331.1,349.9 332.7,344.3 334.4,338.8 336.1,333.4 337.8,328.0 339.4,322.7 341.1,317.5 342.8,312.5 344.5,307.6 346.1,302.8 347.8,298.3 349.5,293.9 351.1,289.8 352.8,285.8 354.5,282.1 356.2,278.7 357.8,275.5 359.5,272.5 361.2,269.8 362.8,267.4 364.5,265.2 366.2,263.3 367.9,261.6 369.5,260.2 371.2,259.1 372.9,258.2 374.6,257.6 376.2,257.3 377.9,257.1 379.6,257.3 381.2,257.6 382.9,258.2 384.6,258.9 386.3,259.9 387.9,261.0 389.6,262.3 391.3,263.8 393.0,265.4 394.6,267.2 396.3,269.1 398.0,271.1 399.6,273.2 401.3,275.4 403.0,277.6 404.7,280.0 406.3,282.4 408.0,284.8 409.7,287.2 411.4,289.7 413.0,292.2 414.7,294.7 416.4,297.2 418.0,299.7 419.7,302.1 421.4,304.5 423.1,306.9 424.7,309.3 426.4,311.6 428.1,313.8 429.8,316.0 431.4,318.1 433.1,320.2 434.8,322.2 436.4,324.1 438.1,326.0 439.8,327.8 441.5,329.5 443.1,331.1 444.8,332.7 446.5,334.2 448.1,335.6 449.8,337.0 451.5,338.3 453.2,339.5 454.8,340.7 456.5,341.8 458.2,342.8 459.9,343.8 461.5,344.7 463.2,345.5 464.9,346.3 466.5,347.1 468.2,347.8 469.9,348.4 471.6,349.0 473.2,349.6 474.9,350.1 476.6,350.6 478.3,351.0 479.9,351.4 481.6,351.8 483.3,352.1 484.9,352.5 486.6,352.7 488.3,353.0 490.0,353.3 491.6,353.5 493.3,353.7 495.0,353.9 496.6,354.0 498.3,354.2 500.0,354.3 501.7,354.4 503.3,354.6 505.0,354.7 506.7,354.8 508.4,354.8 510.0,354.9 511.7,355.0 513.4,355.0 515.0,355.1 516.7,355.1 518.4,355.2 520.1,355.2 521.7,355.3 523.4,355.3 525.1,355.3 526.8,355.3 528.4,355.4 530.1,355.4" fill="none" stroke="#EDB120" stroke-width="0.9" stroke-linejoin="round"/>
<polyline points="329.4,355.5 331.1,355.5 332.7,355.5 334.4,355.5 336.1,355.5 337.8,355.1 339.4,353.6 341.1,350.2 342.8,344.1 344.5,335.5 346.1,324.9 347.8,313.0 349.5,300.6 351.1,288.3 352.8,276.7 354.5,266.0 356.2,256.6 357.8,248.6 359.5,241.9 361.2,236.6 362.8,232.6 364.5,229.7 366.2,228.0 367.9,227.2 369.5,227.2 371.2,228.0 372.9,229.4 374.6,231.3 376.2,233.7 377.9,236.4 379.6,239.4 381.2,242.7 382.9,246.1 384.6,249.7 386.3,253.3 387.9,257.0 389.6,260.7 391.3,264.4 393.0,268.0 394.6,271.6 396.3,275.2 398.0,278.7 399.6,282.1 401.3,285.4 403.0,288.6 404.7,291.7 406.3,294.7 408.0,297.5 409.7,300.3 411.4,303.0 413.0,305.6 414.7,308.0 416.4,310.4 418.0,312.7 419.7,314.8 421.4,316.9 423.1,318.8 424.7,320.7 426.4,322.5 428.1,324.2 429.8,325.9 431.4,327.4 433.1,328.9 434.8,330.3 436.4,331.6 438.1,332.9 439.8,334.1 441.5,335.2 443.1,336.3 444.8,337.3 446.5,338.3 448.1,339.2 449.8,340.1 451.5,340.9 453.2,341.7 454.8,342.4 456.5,343.1 458.2,343.8 459.9,344.5 461.5,345.1 463.2,345.6 464.9,346.2 466.5,346.7 468.2,347.1 469.9,347.6 471.6,348.0 473.2,348.4 474.9,348.8 476.6,349.2 478.3,349.5 479.9,349.9 481.6,350.2 483.3,350.5 484.9,350.7 486.6,351.0 488.3,351.3 490.0,351.5 491.6,351.7 493.3,351.9 495.0,352.1 496.6,352.3 498.3,352.5 500.0,352.6 501.7,352.8 503.3,352.9 505.0,353.1 506.7,353.2 508.4,353.3 510.0,353.5 511.7,353.6 513.4,353.7 515.0,353.8 516.7,353.9 518.4,354.0 520.1,354.1 521.7,354.1 523.4,354.2 525.1,354.3 526.8,354.3 528.4,354.4 530.1,354.5" fill="none" stroke="#7E2F8E" stroke-width="0.5" stroke-linejoin="round"/>
<polyline points="329.4,355.5 331.1,355.5 332.7,355.5 334.4,355.5 336.1,355.5 337.8,355.1 339.4,353.6 341.1,350.2 342.8,344.1 344.5,335.5 346.1,324.9 347.8,313.0 349.5,300.6 351.1,288.3 352.8,276.7 354.5,266.0 356.2,256.6 357.8,248.6 359.5,241.9 361.2,236.6 362.8,232.6 364.5,229.7 366.2,228.0 367.9,227.2 369.5,227.2 371.2,228.0 372.9,229.4 374.6,231.3 376.2,233.7 377.9,236.4 379.6,239.4 381.2,242.7 382.9,246.1 384.6,249.7 386.3,253.3 387.9,257.0 389.6,260.7 391.3,264.4 393.0,268.0 394.6,271.6 396.3,275.2 398.0,278.7 399.6,282.1 401.3,285.4 403.0,288.6 404.7,291.7 406.3,294.7 408.0,297.5 409.7,300.3 411.4,303.0 413.0,305.6 414.7,308.0 416.4,310.4 418.0,312.7 419.7,314.8 421.4,316.9 423.1,318.8 424.7,320.7 426.4,322.5 428.1,324.2 429.8,325.9 431.4,327.4 433.1,328.9 434.8,330.3 436.4,331.6 438.1,332.9 439.8,334.1 441.5,335.2 443.1,336.3 444.8,337.3 446.5,338.3 448.1,339.2 449.8,340.1 451.5,340.9 453.2,341.7 454.8,342.4 456.5,343.1 458.2,343.8 459.9,344.5 461.5,345.1 463.2,345.6 464.9,346.2 466.5,346.7 468.2,347.1 469.9,347.6 471.6,348.0 473.2,348.4 474.9,348.8 476.6,349.2 478.3,349.5 479.9,349.9 481.6,350.2 483.3,350.5 484.9,350.7 486.6,351.0 488.3,351.3 490.0,351.5 491.6,351.7 493.3,351.9 495.0,352.1 496.6,352.3 498.3,352.5 500.0,352.6 501.7,352.8 503.3,352.9 505.0,353.1 506.7,353.2 508.4,353.3 510.0,353.5 511.7,353.6 513.4,353.7 515.0,353.8 516.7,353.9 518.4,354.0 520.1,354.1 521.7,354.1 523.4,354.2 525.1,354.3 526.8,354.3 528.4,354.4 530.1,354.5" fill="none" stroke="#7E2F8E" stroke-width="1.45" stroke-dasharray="0.01 2.0" stroke-linecap="round" stroke-linejoin="round"/>
<polyline points="329.4,355.5 331.1,355.4 332.7,354.8 334.4,353.4 336.1,351.0 337.8,347.5 339.4,343.0 341.1,337.6 342.8,331.5 344.5,324.7 346.1,317.5 347.8,310.0 349.5,302.4 351.1,294.9 352.8,287.6 354.5,280.5 356.2,273.8 357.8,267.6 359.5,262.0 361.2,256.9 362.8,252.4 364.5,248.5 366.2,245.2 367.9,242.6 369.5,240.6 371.2,239.1 372.9,238.3 374.6,237.9 376.2,238.1 377.9,238.7 379.6,239.7 381.2,241.1 382.9,242.8 384.6,244.9 386.3,247.2 387.9,249.8 389.6,252.5 391.3,255.4 393.0,258.5 394.6,261.6 396.3,264.9 398.0,268.2 399.6,271.5 401.3,274.8 403.0,278.2 404.7,281.5 406.3,284.8 408.0,288.0 409.7,291.2 411.4,294.3 413.0,297.3 414.7,300.3 416.4,303.1 418.0,305.9 419.7,308.6 421.4,311.1 423.1,313.6 424.7,316.0 426.4,318.3 428.1,320.5 429.8,322.5 431.4,324.5 433.1,326.4 434.8,328.2 436.4,329.9 438.1,331.5 439.8,333.1 441.5,334.5 443.1,335.9 444.8,337.2 446.5,338.4 448.1,339.5 449.8,340.6 451.5,341.6 453.2,342.6 454.8,343.5 456.5,344.3 458.2,345.1 459.9,345.8 461.5,346.5 463.2,347.1 464.9,347.7 466.5,348.3 468.2,348.8 469.9,349.3 471.6,349.8 473.2,350.2 474.9,350.6 476.6,351.0 478.3,351.3 479.9,351.6 481.6,351.9 483.3,352.2 484.9,352.4 486.6,352.7 488.3,352.9 490.0,353.1 491.6,353.3 493.3,353.5 495.0,353.6 496.6,353.8 498.3,353.9 500.0,354.0 501.7,354.1 503.3,354.3 505.0,354.4 506.7,354.4 508.4,354.5 510.0,354.6 511.7,354.7 513.4,354.7 515.0,354.8 516.7,354.9 518.4,354.9 520.1,355.0 521.7,355.0 523.4,355.0 525.1,355.1 526.8,355.1 528.4,355.2 530.1,355.2" fill="none" stroke="#77AC30" stroke-width="1.75" stroke-dasharray="5 4" stroke-linejoin="round"/>
<polyline points="329.4,355.5 331.1,355.5 332.7,355.5 334.4,355.5 336.1,355.5 337.8,355.1 339.4,353.4 341.1,349.5 342.8,342.8 344.5,333.3 346.1,321.8 347.8,309.0 349.5,295.8 351.1,282.9 352.8,270.9 354.5,260.2 356.2,250.9 357.8,243.1 359.5,236.8 361.2,232.1 362.8,228.7 364.5,226.5 366.2,225.4 367.9,225.3 369.5,226.0 371.2,227.3 372.9,229.3 374.6,231.8 376.2,234.7 377.9,237.8 379.6,241.2 381.2,244.8 382.9,248.5 384.6,252.3 386.3,256.1 387.9,259.9 389.6,263.7 391.3,267.5 393.0,271.2 394.6,274.8 396.3,278.3 398.0,281.8 399.6,285.1 401.3,288.4 403.0,291.5 404.7,294.5 406.3,297.4 408.0,300.2 409.7,302.8 411.4,305.4 413.0,307.8 414.7,310.2 416.4,312.4 418.0,314.6 419.7,316.6 421.4,318.6 423.1,320.4 424.7,322.2 426.4,323.9 428.1,325.5 429.8,327.0 431.4,328.4 433.1,329.8 434.8,331.1 436.4,332.4 438.1,333.6 439.8,334.7 441.5,335.7 443.1,336.8 444.8,337.7 446.5,338.6 448.1,339.5 449.8,340.3 451.5,341.1 453.2,341.8 454.8,342.5 456.5,343.2 458.2,343.8 459.9,344.4 461.5,345.0 463.2,345.5 464.9,346.0 466.5,346.5 468.2,347.0 469.9,347.4 471.6,347.8 473.2,348.2 474.9,348.6 476.6,349.0 478.3,349.3 479.9,349.6 481.6,349.9 483.3,350.2 484.9,350.5 486.6,350.7 488.3,351.0 490.0,351.2 491.6,351.4 493.3,351.6 495.0,351.8 496.6,352.0 498.3,352.2 500.0,352.4 501.7,352.5 503.3,352.7 505.0,352.8 506.7,352.9 508.4,353.1 510.0,353.2 511.7,353.3 513.4,353.4 515.0,353.5 516.7,353.6 518.4,353.7 520.1,353.8 521.7,353.9 523.4,354.0 525.1,354.0 526.8,354.1 528.4,354.2 530.1,354.3" fill="none" stroke="#4DBEEE" stroke-width="1.75" stroke-dasharray="4 1.4 1.6 1.4" stroke-linejoin="round"/>
<polyline points="329.4,355.5 331.1,349.9 332.7,344.3 334.4,338.8 336.1,333.4 337.8,328.0 339.4,322.7 341.1,317.5 342.8,312.5 344.5,307.6 346.1,302.8 347.8,298.3 349.5,293.9 351.1,289.8 352.8,285.8 354.5,282.1 356.2,278.7 357.8,275.5 359.5,272.5 361.2,269.8 362.8,267.4 364.5,265.2 366.2,263.3 367.9,261.6 369.5,260.2 371.2,259.1 372.9,258.2 374.6,257.6 376.2,257.3 377.9,257.1 379.6,257.3 381.2,257.6 382.9,258.2 384.6,258.9 386.3,259.9 387.9,261.0 389.6,262.3 391.3,263.8 393.0,265.4 394.6,267.2 396.3,269.1 398.0,271.1 399.6,273.2 401.3,275.4 403.0,277.6 404.7,280.0 406.3,282.4 408.0,284.8 409.7,287.2 411.4,289.7 413.0,292.2 414.7,294.7 416.4,297.2 418.0,299.7 419.7,302.1 421.4,304.5 423.1,306.9 424.7,309.3 426.4,311.6 428.1,313.8 429.8,316.0 431.4,318.1 433.1,320.2 434.8,322.2 436.4,324.1 438.1,326.0 439.8,327.8 441.5,329.5 443.1,331.1 444.8,332.7 446.5,334.2 448.1,335.6 449.8,337.0 451.5,338.3 453.2,339.5 454.8,340.7 456.5,341.8 458.2,342.8 459.9,343.8 461.5,344.7 463.2,345.5 464.9,346.3 466.5,347.1 468.2,347.8 469.9,348.4 471.6,349.0 473.2,349.6 474.9,350.1 476.6,350.6 478.3,351.0 479.9,351.4 481.6,351.8 483.3,352.1 484.9,352.5 486.6,352.7 488.3,353.0 490.0,353.3 491.6,353.5 493.3,353.7 495.0,353.9 496.6,354.0 498.3,354.2 500.0,354.3 501.7,354.4 503.3,354.6 505.0,354.7 506.7,354.8 508.4,354.8 510.0,354.9 511.7,355.0 513.4,355.0 515.0,355.1 516.7,355.1 518.4,355.2 520.1,355.2 521.7,355.3 523.4,355.3 525.1,355.3 526.8,355.3 528.4,355.4 530.1,355.4" fill="none" stroke="#A2142F" stroke-width="1.75" stroke-dasharray="4 1.4 1.6 1.4" stroke-linejoin="round"/>
<polyline points="329.4,355.5 331.1,355.5 332.7,355.5 334.4,355.4 336.1,355.0 337.8,353.6 339.4,350.7 341.1,345.9 342.8,339.0 344.5,330.3 346.1,320.1 347.8,309.1 349.5,297.6 351.1,286.3 352.8,275.4 354.5,265.4 356.2,256.3 357.8,248.4 359.5,241.8 361.2,236.4 362.8,232.2 364.5,229.2 366.2,227.3 367.9,226.3 369.5,226.2 371.2,226.9 372.9,228.3 374.6,230.2 376.2,232.6 377.9,235.4 379.6,238.6 381.2,242.0 382.9,245.6 384.6,249.3 386.3,253.2 387.9,257.1 389.6,261.0 391.3,264.8 393.0,268.7 394.6,272.5 396.3,276.2 398.0,279.8 399.6,283.4 401.3,286.8 403.0,290.1 404.7,293.3 406.3,296.4 408.0,299.3 409.7,302.2 411.4,304.9 413.0,307.5 414.7,310.0 416.4,312.3 418.0,314.6 419.7,316.7 421.4,318.8 423.1,320.7 424.7,322.5 426.4,324.3 428.1,325.9 429.8,327.5 431.4,329.0 433.1,330.4 434.8,331.8 436.4,333.0 438.1,334.2 439.8,335.4 441.5,336.4 443.1,337.4 444.8,338.4 446.5,339.3 448.1,340.2 449.8,341.0 451.5,341.8 453.2,342.5 454.8,343.2 456.5,343.8 458.2,344.4 459.9,345.0 461.5,345.6 463.2,346.1 464.9,346.6 466.5,347.0 468.2,347.5 469.9,347.9 471.6,348.3 473.2,348.7 474.9,349.0 476.6,349.3 478.3,349.7 479.9,350.0 481.6,350.2 483.3,350.5 484.9,350.8 486.6,351.0 488.3,351.2 490.0,351.4 491.6,351.6 493.3,351.8 495.0,352.0 496.6,352.2 498.3,352.4 500.0,352.5 501.7,352.7 503.3,352.8 505.0,352.9 506.7,353.1 508.4,353.2 510.0,353.3 511.7,353.4 513.4,353.5 515.0,353.6 516.7,353.7 518.4,353.8 520.1,353.8 521.7,353.9 523.4,354.0 525.1,354.1 526.8,354.1 528.4,354.2 530.1,354.3" fill="none" stroke="#0072BD" stroke-width="1.75" stroke-dasharray="5 4" stroke-linejoin="round"/>
<polyline points="329.4,355.5 331.1,352.6 332.7,348.8 334.4,344.5 336.1,339.8 337.8,335.0 339.4,330.0 341.1,325.0 342.8,319.9 344.5,314.7 346.1,309.7 347.8,304.7 349.5,299.8 351.1,295.0 352.8,290.5 354.5,286.0 356.2,281.8 357.8,277.9 359.5,274.1 361.2,270.7 362.8,267.5 364.5,264.6 366.2,262.0 367.9,259.6 369.5,257.6 371.2,255.9 372.9,254.5 374.6,253.4 376.2,252.6 377.9,252.1 379.6,251.9 381.2,252.0 382.9,252.3 384.6,252.9 386.3,253.8 387.9,254.9 389.6,256.2 391.3,257.7 393.0,259.4 394.6,261.3 396.3,263.4 398.0,265.6 399.6,267.9 401.3,270.3 403.0,272.9 404.7,275.5 406.3,278.2 408.0,281.0 409.7,283.7 411.4,286.6 413.0,289.4 414.7,292.2 416.4,295.0 418.0,297.8 419.7,300.6 421.4,303.3 423.1,306.0 424.7,308.6 426.4,311.2 428.1,313.7 429.8,316.1 431.4,318.4 433.1,320.7 434.8,322.9 436.4,325.0 438.1,327.0 439.8,328.9 441.5,330.7 443.1,332.4 444.8,334.1 446.5,335.7 448.1,337.1 449.8,338.5 451.5,339.9 453.2,341.1 454.8,342.3 456.5,343.3 458.2,344.4 459.9,345.3 461.5,346.2 463.2,347.0 464.9,347.8 466.5,348.5 468.2,349.1 469.9,349.7 471.6,350.2 473.2,350.8 474.9,351.2 476.6,351.6 478.3,352.0 479.9,352.4 481.6,352.7 483.3,353.0 484.9,353.3 486.6,353.5 488.3,353.7 490.0,353.9 491.6,354.1 493.3,354.2 495.0,354.4 496.6,354.5 498.3,354.6 500.0,354.7 501.7,354.8 503.3,354.9 505.0,355.0 506.7,355.0 508.4,355.1 510.0,355.1 511.7,355.2 513.4,355.2 515.0,355.3 516.7,355.3 518.4,355.3 520.1,355.3 521.7,355.4 523.4,355.4 525.1,355.4 526.8,355.4 528.4,355.4 530.1,355.4" fill="none" stroke="#D95319" stroke-width="1.75" stroke-linejoin="round"/>
<polyline points="329.4,354.4 331.1,353.7 332.7,352.5 334.4,350.9 336.1,348.8 337.8,345.9 339.4,342.3 341.1,337.9 342.8,332.6 344.5,326.6 346.1,319.8 347.8,312.5 349.5,304.6 351.1,296.4 352.8,288.1 354.5,279.9 356.2,271.8 357.8,264.2 359.5,257.0 361.2,250.5 362.8,244.8 364.5,239.8 366.2,235.7 367.9,232.5 369.5,230.1 371.2,228.6 372.9,227.8 374.6,227.8 376.2,228.5 377.9,229.9 379.6,231.7 381.2,234.1 382.9,236.9 384.6,240.1 386.3,243.5 387.9,247.2 389.6,251.0 391.3,254.9 393.0,259.0 394.6,263.1 396.3,267.2 398.0,271.2 399.6,275.2 401.3,279.2 403.0,283.0 404.7,286.8 406.3,290.4 408.0,293.9 409.7,297.3 411.4,300.5 413.0,303.7 414.7,306.6 416.4,309.5 418.0,312.2 419.7,314.7 421.4,317.1 423.1,319.5 424.7,321.6 426.4,323.7 428.1,325.6 429.8,327.5 431.4,329.2 433.1,330.8 434.8,332.4 436.4,333.8 438.1,335.2 439.8,336.4 441.5,337.6 443.1,338.8 444.8,339.8 446.5,340.8 448.1,341.7 449.8,342.6 451.5,343.4 453.2,344.2 454.8,344.9 456.5,345.6 458.2,346.2 459.9,346.8 461.5,347.3 463.2,347.8 464.9,348.3 466.5,348.8 468.2,349.2 469.9,349.6 471.6,350.0 473.2,350.3 474.9,350.6 476.6,350.9 478.3,351.2 479.9,351.5 481.6,351.7 483.3,352.0 484.9,352.2 486.6,352.4 488.3,352.6 490.0,352.8 491.6,352.9 493.3,353.1 495.0,353.2 496.6,353.4 498.3,353.5 500.0,353.6 501.7,353.8 503.3,353.9 505.0,354.0 506.7,354.1 508.4,354.1 510.0,354.2 511.7,354.3 513.4,354.4 515.0,354.4 516.7,354.5 518.4,354.6 520.1,354.6 521.7,354.7 523.4,354.7 525.1,354.8 526.8,354.8 528.4,354.9 530.1,354.9" fill="none" stroke="#EDB120" stroke-width="1.75" stroke-dasharray="1.0 1.1" stroke-linejoin="round"/>
<polyline points="329.4,355.5 331.1,355.5 332.7,355.5 334.4,354.7 336.1,352.8 337.8,350.1 339.4,346.8 341.1,342.7 342.8,337.9 344.5,332.2 346.1,325.7 347.8,318.6 349.5,310.9 351.1,303.0 352.8,294.9 354.5,286.8 356.2,279.1 357.8,271.6 359.5,264.3 361.2,257.3 362.8,250.8 364.5,244.8 366.2,239.4 367.9,234.7 369.5,230.7 371.2,227.6 372.9,225.4 374.6,224.1 376.2,223.7 377.9,224.1 379.6,225.5 381.2,227.7 382.9,230.7 384.6,234.4 386.3,238.7 387.9,243.6 389.6,248.8 391.3,254.4 393.0,260.2 394.6,266.1 396.3,272.1 398.0,278.2 399.6,284.2 401.3,289.9 403.0,294.9 404.7,299.4 406.3,303.4 408.0,306.9 409.7,310.0 411.4,312.7 413.0,315.0 414.7,317.0 416.4,318.9 418.0,320.5 419.7,322.0 421.4,323.2 423.1,324.3 424.7,325.3 426.4,326.2 428.1,327.0 429.8,327.9 431.4,328.7 433.1,329.5 434.8,330.3 436.4,331.1 438.1,332.0 439.8,332.9 441.5,333.7 443.1,334.6 444.8,335.4 446.5,336.2 448.1,336.9 449.8,337.6 451.5,338.4 453.2,339.1 454.8,339.8 456.5,340.6 458.2,341.3 459.9,341.9 461.5,342.5 463.2,343.1 464.9,343.7 466.5,344.2 468.2,344.8 469.9,345.5 471.6,346.1 473.2,346.8 474.9,347.4 476.6,348.0 478.3,348.5 479.9,349.0 481.6,349.5 483.3,350.0 484.9,350.4 486.6,350.8 488.3,351.2 490.0,351.6 491.6,351.9 493.3,352.2 495.0,352.5 496.6,352.8 498.3,353.1 500.0,353.3 501.7,353.5 503.3,353.7 505.0,353.9 506.7,354.1 508.4,354.3 510.0,354.4 511.7,354.6 513.4,354.7 515.0,354.8 516.7,354.9 518.4,355.0 520.1,355.1 521.7,355.1 523.4,355.2 525.1,355.3 526.8,355.3 528.4,355.3 530.1,355.3" fill="none" stroke="#7E2F8E" stroke-width="1.45" stroke-linejoin="round"/>
<path d="M329.40 355.5v-1.6M329.40 208.5v1.6M356.16 355.5v-1.6M356.16 208.5v1.6M382.92 355.5v-1.6M382.92 208.5v1.6M409.68 355.5v-1.6M409.68 208.5v1.6M436.44 355.5v-1.6M436.44 208.5v1.6M463.20 355.5v-1.6M463.20 208.5v1.6M489.96 355.5v-1.6M489.96 208.5v1.6M516.72 355.5v-1.6M516.72 208.5v1.6M543.48 355.5v-1.6M543.48 208.5v1.6M312.6 355.50h1.6M547.0 355.50h-1.6M312.6 326.10h1.6M547.0 326.10h-1.6M312.6 296.70h1.6M547.0 296.70h-1.6M312.6 267.30h1.6M547.0 267.30h-1.6M312.6 237.90h1.6M547.0 237.90h-1.6M312.6 208.50h1.6M547.0 208.50h-1.6" stroke="#555" stroke-width="0.5" fill="none"/>
<rect x="312.6" y="208.5" width="234.40" height="147.00" fill="none" stroke="#707070" stroke-width="0.55"/>
<g font-size="3.9" fill="#333" stroke="#333" stroke-width="0.08"><text transform="translate(329.40,362.20) rotate(0.5) scale(1.31,1)" text-anchor="middle">0</text><text transform="translate(356.16,362.20) rotate(0.5) scale(1.31,1)" text-anchor="middle">2</text><text transform="translate(382.92,362.20) rotate(0.5) scale(1.31,1)" text-anchor="middle">4</text><text transform="translate(409.68,362.20) rotate(0.5) scale(1.31,1)" text-anchor="middle">6</text><text transform="translate(436.44,362.20) rotate(0.5) scale(1.31,1)" text-anchor="middle">8</text><text transform="translate(463.20,362.20) rotate(0.5) scale(1.31,1)" text-anchor="middle">10</text><text transform="translate(489.96,362.20) rotate(0.5) scale(1.31,1)" text-anchor="middle">12</text><text transform="translate(516.72,362.20) rotate(0.5) scale(1.31,1)" text-anchor="middle">14</text><text transform="translate(543.48,362.20) rotate(0.5) scale(1.31,1)" text-anchor="middle">16</text><text transform="translate(310.20,358.10) rotate(0.5) scale(1.31,1)" text-anchor="end">0</text><text transform="translate(310.20,328.70) rotate(0.5) scale(1.31,1)" text-anchor="end">0.05</text><text transform="translate(310.20,299.30) rotate(0.5) scale(1.31,1)" text-anchor="end">0.1</text><text transform="translate(310.20,269.90) rotate(0.5) scale(1.31,1)" text-anchor="end">0.15</text><text transform="translate(310.20,240.50) rotate(0.5) scale(1.31,1)" text-anchor="end">0.2</text><text transform="translate(310.20,211.10) rotate(0.5) scale(1.31,1)" text-anchor="end">0.25</text></g>
<g font-size="4.4" font-weight="bold" fill="#222" stroke="#222" stroke-width="0.1">
<text transform="translate(429.80,369.30) rotate(0.5) scale(1.31,1)" text-anchor="middle">Wind Speed (m/s)</text>
<text transform="translate(297.50,282.00) rotate(-89.5) scale(1,1.31)" text-anchor="middle">PDF</text>
</g>
<text x="417.70" y="390.70" text-anchor="middle" font-family="'Liberation Serif','DejaVu Serif',serif" font-size="12.8" stroke="#111" stroke-width="0.3" fill="#111">(d)</text>
</g>
<g id="legend" font-size="6.0" fill="#1a1a1a" stroke="#1a1a1a" stroke-width="0.12">
<rect x="446.4" y="6.9" width="81.90" height="88.40" fill="#fff" stroke="#4a4a4a" stroke-width="0.6"/>
<rect x="448.3" y="8.80" width="18.30" height="5.6" fill="#0072BD" stroke="#111" stroke-width="0.5"/>
<text transform="translate(468.40,13.80) rotate(0.5) scale(1.14,1)" text-anchor="start">Actual</text>
<path d="M448.3 19.60H466.6" stroke="#D95319" stroke-width="0.4" fill="none"/>
<circle cx="457.45" cy="19.60" r="0.85" fill="#D95319"/>
<text transform="translate(468.40,21.80) rotate(0.5) scale(1.14,1)" text-anchor="start">Weibull</text>
<path d="M448.3 27.60H466.6" stroke="#EDB120" stroke-width="0.9" fill="none"/>
<text transform="translate(468.40,29.80) rotate(0.5) scale(1.14,1)" text-anchor="start">Rayleigh</text>
<path d="M448.3 35.60H466.6" stroke="#7E2F8E" stroke-width="0.4" fill="none"/>
<circle cx="457.45" cy="35.60" r="0.85" fill="#7E2F8E"/>
<text transform="translate(468.40,37.80) rotate(0.5) scale(1.14,1)" text-anchor="start">BirnbaumSaunders</text>
<path d="M448.3 43.60H466.6" stroke="#77AC30" stroke-width="1.75" stroke-dasharray="5.4 6.6" fill="none"/>
<text transform="translate(468.40,45.80) rotate(0.5) scale(1.14,1)" text-anchor="start">Gamma</text>
<path d="M448.3 51.60H466.6" stroke="#4DBEEE" stroke-width="1.75" stroke-dasharray="4 1.4 1.6 1.4" fill="none"/>
<text transform="translate(468.40,53.80) rotate(0.5) scale(1.14,1)" text-anchor="start">InvGaussian</text>
<path d="M448.3 59.60H466.6" stroke="#A2142F" stroke-width="1.75" stroke-dasharray="4 1.4 1.6 1.4" fill="none"/>
<text transform="translate(468.40,61.80) rotate(0.5) scale(1.14,1)" text-anchor="start">Rician</text>
<path d="M448.3 67.60H466.6" stroke="#0072BD" stroke-width="1.75" stroke-dasharray="5.4 6.6" fill="none"/>
<text transform="translate(468.40,69.80) rotate(0.5) scale(1.14,1)" text-anchor="start">LogNormal</text>
<path d="M448.3 75.60H466.6" stroke="#D95319" stroke-width="1.75" fill="none"/>
<text transform="translate(468.40,77.80) rotate(0.5) scale(1.14,1)" text-anchor="start">Nakagami</text>
<path d="M448.3 83.60H466.6" stroke="#EDB120" stroke-width="1.75" stroke-dasharray="1.0 1.1" fill="none"/>
<text transform="translate(468.40,85.80) rotate(0.5) scale(1.14,1)" text-anchor="start">GenExtValue</text>
<path d="M448.3 91.60H466.6" stroke="#7E2F8E" stroke-width="1.45" fill="none"/>
<text transform="translate(468.40,93.80) rotate(0.5) scale(1.14,1)" text-anchor="start">Bi-Modal</text>
</g>
</svg>
</body></html>
